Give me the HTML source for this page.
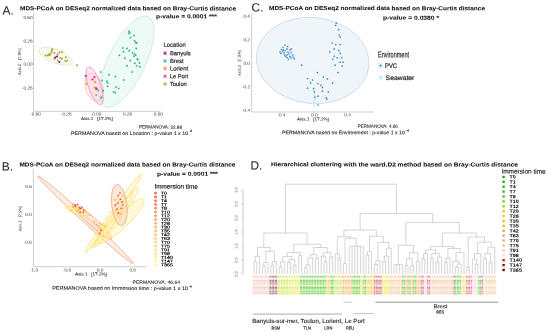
<!DOCTYPE html>
<html><head><meta charset="utf-8"><style>
html,body{margin:0;padding:0;background:#fff;width:550px;height:332px;overflow:hidden}
svg{display:block;will-change:transform}
text{font-family:"Liberation Sans", sans-serif;text-rendering:geometricPrecision}
</style></head><body>
<svg width="550" height="332" viewBox="0 0 550 332">
<text x="2.6" y="14.6" font-size="11.9" fill="#1a1a1a" font-weight="normal" text-anchor="start" stroke="#1a1a1a" stroke-width="0.02" transform="rotate(0.06 2.6 14.6)" >A.</text>
<text x="20" y="10.2" font-size="5.85" fill="#111" font-weight="bold" text-anchor="start" textLength="216.00" lengthAdjust="spacingAndGlyphs" stroke="#111" stroke-width="0.06" transform="rotate(0.06 20 10.2)" >MDS-PCoA on DESeq2 normalized data based on Bray-Curtis distance</text>
<text x="156.1" y="18.2" font-size="5.62" fill="#111" font-weight="bold" text-anchor="start" textLength="60.70" lengthAdjust="spacingAndGlyphs" stroke="#111" stroke-width="0.06" transform="rotate(0.06 156.1 18.2)" >p-value = 0.0001 ***</text>
<line x1="33.6" y1="12.5" x2="33.6" y2="111.4" stroke="#c9c9c9" stroke-width="0.9"/>
<line x1="33.6" y1="111.4" x2="160.5" y2="111.4" stroke="#c9c9c9" stroke-width="0.9"/>
<text x="32.6" y="18.9" font-size="4.35" fill="#555" font-weight="normal" text-anchor="end" textLength="9.13" lengthAdjust="spacingAndGlyphs" stroke="#555" stroke-width="0.05" transform="rotate(0.06 32.6 18.9)" >0.50</text>
<text x="32.6" y="42.5" font-size="4.35" fill="#555" font-weight="normal" text-anchor="end" textLength="9.13" lengthAdjust="spacingAndGlyphs" stroke="#555" stroke-width="0.05" transform="rotate(0.06 32.6 42.5)" >0.25</text>
<text x="32.6" y="65.6" font-size="4.35" fill="#555" font-weight="normal" text-anchor="end" textLength="9.13" lengthAdjust="spacingAndGlyphs" stroke="#555" stroke-width="0.05" transform="rotate(0.06 32.6 65.6)" >0.00</text>
<text x="32.6" y="89.5" font-size="4.35" fill="#555" font-weight="normal" text-anchor="end" textLength="10.61" lengthAdjust="spacingAndGlyphs" stroke="#555" stroke-width="0.05" transform="rotate(0.06 32.6 89.5)" >-0.25</text>
<text x="35.6" y="115.6" font-size="4.35" fill="#555" font-weight="normal" text-anchor="middle" textLength="10.61" lengthAdjust="spacingAndGlyphs" stroke="#555" stroke-width="0.05" transform="rotate(0.06 35.6 115.6)" >-0.50</text>
<text x="66.2" y="115.6" font-size="4.35" fill="#555" font-weight="normal" text-anchor="middle" textLength="10.61" lengthAdjust="spacingAndGlyphs" stroke="#555" stroke-width="0.05" transform="rotate(0.06 66.2 115.6)" >-0.25</text>
<text x="96.9" y="115.6" font-size="4.35" fill="#555" font-weight="normal" text-anchor="middle" textLength="9.13" lengthAdjust="spacingAndGlyphs" stroke="#555" stroke-width="0.05" transform="rotate(0.06 96.9 115.6)" >0.00</text>
<text x="127.6" y="115.6" font-size="4.35" fill="#555" font-weight="normal" text-anchor="middle" textLength="9.13" lengthAdjust="spacingAndGlyphs" stroke="#555" stroke-width="0.05" transform="rotate(0.06 127.6 115.6)" >0.25</text>
<text x="158.3" y="115.6" font-size="4.35" fill="#555" font-weight="normal" text-anchor="middle" textLength="9.13" lengthAdjust="spacingAndGlyphs" stroke="#555" stroke-width="0.05" transform="rotate(0.06 158.3 115.6)" >0.50</text>
<text x="80.9" y="119.9" font-size="4.24" fill="#333" font-weight="normal" text-anchor="start" textLength="31.80" lengthAdjust="spacingAndGlyphs" stroke="#333" stroke-width="0.08" transform="rotate(0.06 80.9 119.9)" >Axis.1&#160;&#160;&#160;[17.2%]</text>
<text x="0" y="0" font-size="4.2" fill="#333" text-anchor="middle" textLength="27.00" lengthAdjust="spacingAndGlyphs" transform="translate(21.1 61.8) rotate(-89.94)">Axis.2&#160;&#160;&#160;[7.9%]</text>
<ellipse cx="126.7" cy="61.7" rx="50" ry="18.6" transform="rotate(-64.2 126.7 61.7)" fill="#eefaf6" fill-opacity="1" stroke="#c2ebde" stroke-opacity="1" stroke-width="0.7"/>
<ellipse cx="55.7" cy="56.3" rx="17.8" ry="6.6" transform="rotate(21 55.7 56.3)" fill="#fbfaf0" fill-opacity="1" stroke="#e4e0c0" stroke-opacity="1" stroke-width="0.7"/>
<ellipse cx="94.1" cy="87.3" rx="14.6" ry="8.7" transform="rotate(73.2 94.1 87.3)" fill="#fdeee6" fill-opacity="0.8" stroke="#f6c4a8" stroke-opacity="1" stroke-width="0.7"/>
<ellipse cx="94.6" cy="85.9" rx="19.7" ry="6.2" transform="rotate(71.6 94.6 85.9)" fill="#f9c4dc" fill-opacity="0.38" stroke="#f590bc" stroke-opacity="1" stroke-width="0.8"/>
<circle cx="129.1" cy="31.3" r="1.0" fill="#3cbc8c" fill-opacity="1"/>
<circle cx="129.8" cy="32.7" r="1.0" fill="#3cbc8c" fill-opacity="1"/>
<circle cx="128.8" cy="33.4" r="1.0" fill="#3cbc8c" fill-opacity="1"/>
<circle cx="134" cy="35.5" r="1.0" fill="#3cbc8c" fill-opacity="1"/>
<circle cx="130.5" cy="37.6" r="1.0" fill="#3cbc8c" fill-opacity="1"/>
<circle cx="134.6" cy="41" r="1.0" fill="#3cbc8c" fill-opacity="1"/>
<circle cx="135.7" cy="42.4" r="1.0" fill="#3cbc8c" fill-opacity="1"/>
<circle cx="136.7" cy="43.1" r="1.0" fill="#3cbc8c" fill-opacity="1"/>
<circle cx="122.9" cy="48" r="1.0" fill="#3cbc8c" fill-opacity="1"/>
<circle cx="127" cy="48.6" r="1.0" fill="#3cbc8c" fill-opacity="1"/>
<circle cx="129.1" cy="50.7" r="1.0" fill="#3cbc8c" fill-opacity="1"/>
<circle cx="136.3" cy="48.6" r="1.0" fill="#3cbc8c" fill-opacity="1"/>
<circle cx="123.6" cy="51.7" r="1.0" fill="#3cbc8c" fill-opacity="1"/>
<circle cx="132.6" cy="52.8" r="1.0" fill="#3cbc8c" fill-opacity="1"/>
<circle cx="134.6" cy="54.2" r="1.0" fill="#3cbc8c" fill-opacity="1"/>
<circle cx="135.7" cy="54.9" r="1.0" fill="#3cbc8c" fill-opacity="1"/>
<circle cx="119.4" cy="55.2" r="1.0" fill="#3cbc8c" fill-opacity="1"/>
<circle cx="124.9" cy="58.3" r="1.0" fill="#3cbc8c" fill-opacity="1"/>
<circle cx="134" cy="56.3" r="1.0" fill="#3cbc8c" fill-opacity="1"/>
<circle cx="137.4" cy="59" r="1.0" fill="#3cbc8c" fill-opacity="1"/>
<circle cx="130.2" cy="60.5" r="1.0" fill="#3cbc8c" fill-opacity="1"/>
<circle cx="137.7" cy="59.8" r="1.0" fill="#3cbc8c" fill-opacity="1"/>
<circle cx="134.9" cy="63.3" r="1.0" fill="#3cbc8c" fill-opacity="1"/>
<circle cx="139.5" cy="63" r="1.0" fill="#3cbc8c" fill-opacity="1"/>
<circle cx="136.7" cy="65.8" r="1.0" fill="#3cbc8c" fill-opacity="1"/>
<circle cx="139.9" cy="66.8" r="1.0" fill="#3cbc8c" fill-opacity="1"/>
<circle cx="127" cy="65.7" r="1.0" fill="#3cbc8c" fill-opacity="1"/>
<circle cx="132.1" cy="71.9" r="1.0" fill="#3cbc8c" fill-opacity="1"/>
<circle cx="100.7" cy="71.9" r="1.0" fill="#3cbc8c" fill-opacity="1"/>
<circle cx="109" cy="74.8" r="1.0" fill="#3cbc8c" fill-opacity="1"/>
<circle cx="115.5" cy="76.5" r="1.0" fill="#3cbc8c" fill-opacity="1"/>
<circle cx="123.8" cy="79.9" r="1.0" fill="#3cbc8c" fill-opacity="1"/>
<circle cx="102.1" cy="80.6" r="1.0" fill="#3cbc8c" fill-opacity="1"/>
<circle cx="106.9" cy="81.3" r="1.0" fill="#3cbc8c" fill-opacity="1"/>
<circle cx="107.6" cy="83.1" r="1.0" fill="#3cbc8c" fill-opacity="1"/>
<circle cx="107.6" cy="86.2" r="1.0" fill="#3cbc8c" fill-opacity="1"/>
<circle cx="115.9" cy="86.9" r="1.0" fill="#3cbc8c" fill-opacity="1"/>
<circle cx="118.7" cy="88.5" r="1.0" fill="#3cbc8c" fill-opacity="1"/>
<circle cx="113.6" cy="92.1" r="1.0" fill="#3cbc8c" fill-opacity="1"/>
<circle cx="115.2" cy="92.7" r="1.0" fill="#3cbc8c" fill-opacity="1"/>
<circle cx="103" cy="90.7" r="1.0" fill="#3cbc8c" fill-opacity="1"/>
<circle cx="101.4" cy="98" r="1.0" fill="#3cbc8c" fill-opacity="1"/>
<circle cx="98" cy="90.5" r="1.0" fill="#3cbc8c" fill-opacity="1"/>
<circle cx="102.8" cy="90.5" r="1.0" fill="#3cbc8c" fill-opacity="1"/>
<circle cx="101.4" cy="97.2" r="1.0" fill="#3cbc8c" fill-opacity="1"/>
<circle cx="52.3" cy="49.2" r="1.05" fill="#b0a83c" fill-opacity="1"/>
<circle cx="51.4" cy="52.1" r="1.05" fill="#b0a83c" fill-opacity="1"/>
<circle cx="50.2" cy="53.8" r="1.05" fill="#b0a83c" fill-opacity="1"/>
<circle cx="45.5" cy="55.5" r="1.05" fill="#b0a83c" fill-opacity="1"/>
<circle cx="47.6" cy="55.5" r="1.05" fill="#b0a83c" fill-opacity="1"/>
<circle cx="49.7" cy="55.1" r="1.05" fill="#b0a83c" fill-opacity="1"/>
<circle cx="54.4" cy="53" r="1.05" fill="#b0a83c" fill-opacity="1"/>
<circle cx="57.7" cy="54.2" r="1.05" fill="#b0a83c" fill-opacity="1"/>
<circle cx="59.4" cy="52.5" r="1.05" fill="#b0a83c" fill-opacity="1"/>
<circle cx="62" cy="52.1" r="1.05" fill="#b0a83c" fill-opacity="1"/>
<circle cx="60.3" cy="58" r="1.05" fill="#b0a83c" fill-opacity="1"/>
<circle cx="62" cy="58.8" r="1.05" fill="#b0a83c" fill-opacity="1"/>
<circle cx="65.7" cy="57.2" r="1.05" fill="#b0a83c" fill-opacity="1"/>
<circle cx="65.3" cy="61" r="1.05" fill="#b0a83c" fill-opacity="1"/>
<circle cx="67" cy="60.5" r="1.05" fill="#b0a83c" fill-opacity="1"/>
<circle cx="54.4" cy="59.3" r="1.05" fill="#b0a83c" fill-opacity="1"/>
<circle cx="57.7" cy="60.5" r="1.05" fill="#b0a83c" fill-opacity="1"/>
<circle cx="77.1" cy="65.2" r="1.05" fill="#b0a83c" fill-opacity="1"/>
<circle cx="96.3" cy="95.1" r="1.05" fill="#b0a83c" fill-opacity="1"/>
<circle cx="52" cy="50.5" r="1.05" fill="#b0a83c" fill-opacity="1"/>
<circle cx="48.5" cy="54.5" r="1.05" fill="#b0a83c" fill-opacity="1"/>
<circle cx="55.2" cy="57.6" r="1.1" fill="#8e058e" fill-opacity="1"/>
<circle cx="56.9" cy="56.5" r="1.1" fill="#8e058e" fill-opacity="1"/>
<circle cx="59.4" cy="62" r="1.1" fill="#8e058e" fill-opacity="1"/>
<circle cx="85.8" cy="75.8" r="1.1" fill="#ff1493" fill-opacity="1"/>
<circle cx="94.5" cy="77.1" r="1.1" fill="#ff1493" fill-opacity="1"/>
<circle cx="92.4" cy="79.5" r="1.1" fill="#ff1493" fill-opacity="1"/>
<circle cx="95.9" cy="88.2" r="1.1" fill="#ff1493" fill-opacity="1"/>
<circle cx="96.6" cy="88.9" r="1.1" fill="#ff1493" fill-opacity="1"/>
<circle cx="86.6" cy="84" r="1.05" fill="#ff7f3a" fill-opacity="1"/>
<circle cx="94.9" cy="82" r="1.05" fill="#ff7f3a" fill-opacity="1"/>
<circle cx="94.9" cy="87.5" r="1.05" fill="#ff7f3a" fill-opacity="1"/>
<text x="163.5" y="46.8" font-size="5.93" fill="#2a2a2a" font-weight="normal" text-anchor="start" textLength="22.20" lengthAdjust="spacingAndGlyphs" stroke="#2a2a2a" stroke-width="0.2" transform="rotate(0.06 163.5 46.8)" >Location</text>
<rect x="163.1" y="51.2" width="4.0" height="4.0" fill="#dcaee0"/>
<circle cx="165.1" cy="53.2" r="1.0" fill="#8e058e"/>
<text x="169.9" y="55.2" font-size="5.93" fill="#2a2a2a" font-weight="normal" text-anchor="start" textLength="20.77" lengthAdjust="spacingAndGlyphs" stroke="#2a2a2a" stroke-width="0.2" transform="rotate(0.06 169.9 55.2)" >Banyuls</text>
<rect x="163.1" y="58.900000000000006" width="4.0" height="4.0" fill="#b4e8d4"/>
<circle cx="165.1" cy="60.900000000000006" r="1.0" fill="#3cbc8c"/>
<text x="169.9" y="62.900000000000006" font-size="5.93" fill="#2a2a2a" font-weight="normal" text-anchor="start" textLength="13.67" lengthAdjust="spacingAndGlyphs" stroke="#2a2a2a" stroke-width="0.2" transform="rotate(0.06 169.9 62.900000000000006)" >Brest</text>
<rect x="163.1" y="66.60000000000001" width="4.0" height="4.0" fill="#ffcdb0"/>
<circle cx="165.1" cy="68.60000000000001" r="1.0" fill="#ff7f3a"/>
<text x="169.9" y="70.60000000000001" font-size="5.93" fill="#2a2a2a" font-weight="normal" text-anchor="start" textLength="18.28" lengthAdjust="spacingAndGlyphs" stroke="#2a2a2a" stroke-width="0.2" transform="rotate(0.06 169.9 70.60000000000001)" >Lorient</text>
<rect x="163.1" y="74.30000000000001" width="4.0" height="4.0" fill="#ffb8d8"/>
<circle cx="165.1" cy="76.30000000000001" r="1.0" fill="#ff1493"/>
<text x="169.9" y="78.30000000000001" font-size="5.93" fill="#2a2a2a" font-weight="normal" text-anchor="start" textLength="18.14" lengthAdjust="spacingAndGlyphs" stroke="#2a2a2a" stroke-width="0.2" transform="rotate(0.06 169.9 78.30000000000001)" >Le Port</text>
<rect x="163.1" y="82.0" width="4.0" height="4.0" fill="#e2deb2"/>
<circle cx="165.1" cy="84.0" r="1.0" fill="#b0a83c"/>
<text x="169.9" y="86.0" font-size="5.93" fill="#2a2a2a" font-weight="normal" text-anchor="start" textLength="16.85" lengthAdjust="spacingAndGlyphs" stroke="#2a2a2a" stroke-width="0.2" transform="rotate(0.06 169.9 86.0)" >Toulon</text>
<text x="138.9" y="128.6" font-size="4.66" fill="#1a1a1a" font-weight="normal" text-anchor="start" textLength="43.10" lengthAdjust="spacingAndGlyphs" stroke="#1a1a1a" stroke-width="0.08" transform="rotate(0.06 138.9 128.6)" >PERMANOVA: 22.88</text>
<text x="70.9" y="135.0" font-size="4.94" fill="#1a1a1a" font-weight="normal" text-anchor="start" textLength="117.40" lengthAdjust="spacingAndGlyphs" stroke="#1a1a1a" stroke-width="0.08" transform="rotate(0.06 70.9 135.0)" >PERMANOVA based on Location : p-value 1 x 10</text>
<text x="189.4" y="131.7" font-size="2.8" fill="#1a1a1a" font-weight="normal" text-anchor="start" stroke="#1a1a1a" stroke-width="0.2" transform="rotate(0.06 189.4 131.7)" >-4</text>
<text x="251.6" y="11.6" font-size="11.9" fill="#1a1a1a" font-weight="normal" text-anchor="start" stroke="#1a1a1a" stroke-width="0.02" transform="rotate(0.06 251.6 11.6)" >C.</text>
<text x="269" y="10.0" font-size="5.85" fill="#111" font-weight="bold" text-anchor="start" textLength="216.00" lengthAdjust="spacingAndGlyphs" stroke="#111" stroke-width="0.06" transform="rotate(0.06 269 10.0)" >MDS-PCoA on DESeq2 normalized data based on Bray-Curtis distance</text>
<text x="383" y="19.6" font-size="5.62" fill="#111" font-weight="bold" text-anchor="start" textLength="56.00" lengthAdjust="spacingAndGlyphs" stroke="#111" stroke-width="0.06" transform="rotate(0.06 383 19.6)" >p-value = 0.0380 *</text>
<line x1="251.6" y1="13.5" x2="251.6" y2="112" stroke="#c9c9c9" stroke-width="0.9"/>
<line x1="251.6" y1="112" x2="374" y2="112" stroke="#c9c9c9" stroke-width="0.9"/>
<text x="250" y="17.7" font-size="4.35" fill="#555" font-weight="normal" text-anchor="end" textLength="6.52" lengthAdjust="spacingAndGlyphs" stroke="#555" stroke-width="0.05" transform="rotate(0.06 250 17.7)" >0.4</text>
<text x="250" y="41.3" font-size="4.35" fill="#555" font-weight="normal" text-anchor="end" textLength="6.52" lengthAdjust="spacingAndGlyphs" stroke="#555" stroke-width="0.05" transform="rotate(0.06 250 41.3)" >0.2</text>
<text x="250" y="64.7" font-size="4.35" fill="#555" font-weight="normal" text-anchor="end" textLength="6.52" lengthAdjust="spacingAndGlyphs" stroke="#555" stroke-width="0.05" transform="rotate(0.06 250 64.7)" >0.0</text>
<text x="250" y="88.3" font-size="4.35" fill="#555" font-weight="normal" text-anchor="end" textLength="8.00" lengthAdjust="spacingAndGlyphs" stroke="#555" stroke-width="0.05" transform="rotate(0.06 250 88.3)" >-0.2</text>
<text x="250" y="111.8" font-size="4.35" fill="#555" font-weight="normal" text-anchor="end" textLength="8.00" lengthAdjust="spacingAndGlyphs" stroke="#555" stroke-width="0.05" transform="rotate(0.06 250 111.8)" >-0.4</text>
<text x="281.5" y="116.2" font-size="4.35" fill="#555" font-weight="normal" text-anchor="middle" textLength="8.00" lengthAdjust="spacingAndGlyphs" stroke="#555" stroke-width="0.05" transform="rotate(0.06 281.5 116.2)" >-0.4</text>
<text x="314.5" y="116.2" font-size="4.35" fill="#555" font-weight="normal" text-anchor="middle" textLength="6.52" lengthAdjust="spacingAndGlyphs" stroke="#555" stroke-width="0.05" transform="rotate(0.06 314.5 116.2)" >0.0</text>
<text x="347.6" y="116.2" font-size="4.35" fill="#555" font-weight="normal" text-anchor="middle" textLength="6.52" lengthAdjust="spacingAndGlyphs" stroke="#555" stroke-width="0.05" transform="rotate(0.06 347.6 116.2)" >0.4</text>
<text x="297" y="120.6" font-size="4.24" fill="#333" font-weight="normal" text-anchor="start" textLength="31.80" lengthAdjust="spacingAndGlyphs" stroke="#333" stroke-width="0.08" transform="rotate(0.06 297 120.6)" >Axis.1&#160;&#160;&#160;[17.2%]</text>
<text x="0" y="0" font-size="4.2" fill="#333" text-anchor="middle" textLength="26.00" lengthAdjust="spacingAndGlyphs" transform="translate(240.7 63) rotate(-89.94)">Axis.2&#160;&#160;&#160;[7.9%]</text>
<ellipse cx="312.7" cy="60.5" rx="56.5" ry="43.0" transform="rotate(6 312.7 60.5)" fill="#f0f5fa" fill-opacity="1" stroke="#bcd5ea" stroke-opacity="1" stroke-width="0.7"/>
<line x1="314.4" y1="86" x2="314.4" y2="108" stroke="#a8eeee" stroke-width="0.7"/>
<circle cx="284.9" cy="45.1" r="0.85" fill="#3c88d2" fill-opacity="1"/>
<circle cx="286.9" cy="48.9" r="0.85" fill="#3c88d2" fill-opacity="1"/>
<circle cx="289.9" cy="49.8" r="0.85" fill="#3c88d2" fill-opacity="1"/>
<circle cx="282.5" cy="51" r="0.85" fill="#3c88d2" fill-opacity="1"/>
<circle cx="281" cy="53.4" r="0.85" fill="#3c88d2" fill-opacity="1"/>
<circle cx="284" cy="52.8" r="0.85" fill="#3c88d2" fill-opacity="1"/>
<circle cx="286.9" cy="54.8" r="0.85" fill="#3c88d2" fill-opacity="1"/>
<circle cx="289.9" cy="56.3" r="0.85" fill="#3c88d2" fill-opacity="1"/>
<circle cx="292.8" cy="54.8" r="0.85" fill="#3c88d2" fill-opacity="1"/>
<circle cx="294.3" cy="58.7" r="0.85" fill="#3c88d2" fill-opacity="1"/>
<circle cx="288.4" cy="59.3" r="0.85" fill="#3c88d2" fill-opacity="1"/>
<circle cx="290.8" cy="57.8" r="0.85" fill="#3c88d2" fill-opacity="1"/>
<circle cx="291.4" cy="48.9" r="0.85" fill="#3c88d2" fill-opacity="1"/>
<circle cx="285.5" cy="56.3" r="0.85" fill="#3c88d2" fill-opacity="1"/>
<circle cx="283.5" cy="50" r="0.85" fill="#3c88d2" fill-opacity="1"/>
<circle cx="288" cy="52" r="0.85" fill="#3c88d2" fill-opacity="1"/>
<circle cx="301.7" cy="65.2" r="0.85" fill="#3c88d2" fill-opacity="1"/>
<circle cx="336.3" cy="23.2" r="0.85" fill="#3c88d2" fill-opacity="1"/>
<circle cx="335.7" cy="25.3" r="0.85" fill="#3c88d2" fill-opacity="1"/>
<circle cx="338.7" cy="29.7" r="0.85" fill="#3c88d2" fill-opacity="1"/>
<circle cx="339.2" cy="35" r="0.85" fill="#3c88d2" fill-opacity="1"/>
<circle cx="340.1" cy="37.1" r="0.85" fill="#3c88d2" fill-opacity="1"/>
<circle cx="332.2" cy="43" r="0.85" fill="#3c88d2" fill-opacity="1"/>
<circle cx="335.7" cy="44.5" r="0.85" fill="#3c88d2" fill-opacity="1"/>
<circle cx="340.1" cy="44.5" r="0.85" fill="#3c88d2" fill-opacity="1"/>
<circle cx="334.2" cy="48.9" r="0.85" fill="#3c88d2" fill-opacity="1"/>
<circle cx="329.8" cy="51.9" r="0.85" fill="#3c88d2" fill-opacity="1"/>
<circle cx="338.7" cy="50.4" r="0.85" fill="#3c88d2" fill-opacity="1"/>
<circle cx="340.1" cy="53.4" r="0.85" fill="#3c88d2" fill-opacity="1"/>
<circle cx="337.2" cy="57.8" r="0.85" fill="#3c88d2" fill-opacity="1"/>
<circle cx="341.6" cy="57.8" r="0.85" fill="#3c88d2" fill-opacity="1"/>
<circle cx="334.2" cy="56.3" r="0.85" fill="#3c88d2" fill-opacity="1"/>
<circle cx="340.1" cy="62.2" r="0.85" fill="#3c88d2" fill-opacity="1"/>
<circle cx="343.1" cy="62.2" r="0.85" fill="#3c88d2" fill-opacity="1"/>
<circle cx="342.2" cy="66.1" r="0.85" fill="#3c88d2" fill-opacity="1"/>
<circle cx="335.1" cy="65.2" r="0.85" fill="#3c88d2" fill-opacity="1"/>
<circle cx="338.1" cy="72.6" r="0.85" fill="#3c88d2" fill-opacity="1"/>
<circle cx="332.7" cy="59.3" r="0.85" fill="#3c88d2" fill-opacity="1"/>
<circle cx="317.4" cy="72.6" r="0.85" fill="#3c88d2" fill-opacity="1"/>
<circle cx="307.6" cy="78.5" r="0.85" fill="#3c88d2" fill-opacity="1"/>
<circle cx="312.6" cy="80" r="0.85" fill="#3c88d2" fill-opacity="1"/>
<circle cx="323.3" cy="77" r="0.85" fill="#3c88d2" fill-opacity="1"/>
<circle cx="327.4" cy="79.1" r="0.85" fill="#3c88d2" fill-opacity="1"/>
<circle cx="310.6" cy="82.9" r="0.85" fill="#3c88d2" fill-opacity="1"/>
<circle cx="318" cy="83.5" r="0.85" fill="#3c88d2" fill-opacity="1"/>
<circle cx="320.9" cy="85.3" r="0.85" fill="#3c88d2" fill-opacity="1"/>
<circle cx="322.4" cy="87.4" r="0.85" fill="#3c88d2" fill-opacity="1"/>
<circle cx="332.7" cy="82.9" r="0.85" fill="#3c88d2" fill-opacity="1"/>
<circle cx="307.6" cy="88.2" r="0.85" fill="#3c88d2" fill-opacity="1"/>
<circle cx="313.5" cy="88.8" r="0.85" fill="#3c88d2" fill-opacity="1"/>
<circle cx="322.4" cy="91.2" r="0.85" fill="#3c88d2" fill-opacity="1"/>
<circle cx="328.3" cy="91.8" r="0.85" fill="#3c88d2" fill-opacity="1"/>
<circle cx="318" cy="96.2" r="0.85" fill="#3c88d2" fill-opacity="1"/>
<circle cx="315" cy="97.1" r="0.85" fill="#3c88d2" fill-opacity="1"/>
<circle cx="326.8" cy="99.2" r="0.85" fill="#3c88d2" fill-opacity="1"/>
<circle cx="326.2" cy="97.7" r="0.85" fill="#3c88d2" fill-opacity="1"/>
<circle cx="318" cy="105.1" r="0.85" fill="#3c88d2" fill-opacity="1"/>
<circle cx="314.4" cy="91.8" r="0.85" fill="#3c88d2" fill-opacity="1"/>
<circle cx="283" cy="47.5" r="0.85" fill="#3c88d2" fill-opacity="1"/>
<circle cx="287.5" cy="46.5" r="0.85" fill="#3c88d2" fill-opacity="1"/>
<circle cx="281.5" cy="49.5" r="0.85" fill="#3c88d2" fill-opacity="1"/>
<circle cx="285" cy="50.5" r="0.85" fill="#3c88d2" fill-opacity="1"/>
<circle cx="289" cy="54" r="0.85" fill="#3c88d2" fill-opacity="1"/>
<circle cx="291" cy="52.5" r="0.85" fill="#3c88d2" fill-opacity="1"/>
<circle cx="284.5" cy="55" r="0.85" fill="#3c88d2" fill-opacity="1"/>
<circle cx="287" cy="57.5" r="0.85" fill="#3c88d2" fill-opacity="1"/>
<circle cx="293" cy="57" r="0.85" fill="#3c88d2" fill-opacity="1"/>
<circle cx="280" cy="52" r="0.85" fill="#3c88d2" fill-opacity="1"/>
<rect x="377.8" y="62.8" width="5.4" height="5.6" fill="#e2edf8"/>
<rect x="379.3" y="65.25" width="2.4" height="0.7" fill="#3c88d2"/><rect x="380.15" y="64.4" width="0.7" height="2.4" fill="#3c88d2"/>
<rect x="377.8" y="74.8" width="5.4" height="5.6" fill="#e8fafa"/>
<rect x="379.3" y="77.25" width="2.4" height="0.7" fill="#8ee8e8"/><rect x="380.15" y="76.4" width="0.7" height="2.4" fill="#8ee8e8"/>
<text x="378" y="57.4" font-size="8.6" fill="#2a2a2a" font-weight="normal" text-anchor="start" textLength="31.00" lengthAdjust="spacingAndGlyphs" stroke="#2a2a2a" stroke-width="0.2" transform="rotate(0.06 378 57.4)" >Environment</text>
<text x="385" y="67.9" font-size="6.6" fill="#1a1a1a" font-weight="normal" text-anchor="start" textLength="12.00" lengthAdjust="spacingAndGlyphs" stroke="#1a1a1a" stroke-width="0.2" transform="rotate(0.06 385 67.9)" >PVC</text>
<text x="385.6" y="79.9" font-size="6.6" fill="#1a1a1a" font-weight="normal" text-anchor="start" textLength="28.80" lengthAdjust="spacingAndGlyphs" stroke="#1a1a1a" stroke-width="0.2" transform="rotate(0.06 385.6 79.9)" >Seawater</text>
<text x="357.8" y="127.8" font-size="4.66" fill="#1a1a1a" font-weight="normal" text-anchor="start" textLength="39.90" lengthAdjust="spacingAndGlyphs" stroke="#1a1a1a" stroke-width="0.08" transform="rotate(0.06 357.8 127.8)" >PERMANOVA: 4.06</text>
<text x="282" y="134.2" font-size="4.94" fill="#1a1a1a" font-weight="normal" text-anchor="start" textLength="122.80" lengthAdjust="spacingAndGlyphs" stroke="#1a1a1a" stroke-width="0.08" transform="rotate(0.06 282 134.2)" >PERMANOVA based on Environment : p-value 1 x 10</text>
<text x="406.3" y="131.4" font-size="2.8" fill="#1a1a1a" font-weight="normal" text-anchor="start" stroke="#1a1a1a" stroke-width="0.2" transform="rotate(0.06 406.3 131.4)" >-4</text>
<text x="1.8" y="170.6" font-size="11.9" fill="#1a1a1a" font-weight="normal" text-anchor="start" stroke="#1a1a1a" stroke-width="0.02" transform="rotate(0.06 1.8 170.6)" >B.</text>
<text x="19.4" y="166.4" font-size="5.85" fill="#111" font-weight="bold" text-anchor="start" textLength="216.00" lengthAdjust="spacingAndGlyphs" stroke="#111" stroke-width="0.06" transform="rotate(0.06 19.4 166.4)" >MDS-PCoA on DESeq2 normalized data based on Bray-Curtis distance</text>
<text x="157" y="175.7" font-size="5.62" fill="#111" font-weight="bold" text-anchor="start" textLength="60.70" lengthAdjust="spacingAndGlyphs" stroke="#111" stroke-width="0.06" transform="rotate(0.06 157 175.7)" >p-value = 0.0001 ***</text>
<line x1="33.4" y1="169" x2="33.4" y2="266.7" stroke="#c9c9c9" stroke-width="0.9"/>
<line x1="33.4" y1="266.7" x2="147" y2="266.7" stroke="#c9c9c9" stroke-width="0.9"/>
<text x="31.8" y="188.0" font-size="4.35" fill="#555" font-weight="normal" text-anchor="end" textLength="6.52" lengthAdjust="spacingAndGlyphs" stroke="#555" stroke-width="0.05" transform="rotate(0.06 31.8 188.0)" >0.5</text>
<text x="31.8" y="215.9" font-size="4.35" fill="#555" font-weight="normal" text-anchor="end" textLength="6.52" lengthAdjust="spacingAndGlyphs" stroke="#555" stroke-width="0.05" transform="rotate(0.06 31.8 215.9)" >0.0</text>
<text x="31.8" y="243.7" font-size="4.35" fill="#555" font-weight="normal" text-anchor="end" textLength="8.00" lengthAdjust="spacingAndGlyphs" stroke="#555" stroke-width="0.05" transform="rotate(0.06 31.8 243.7)" >-0.5</text>
<text x="34" y="271.6" font-size="4.35" fill="#555" font-weight="normal" text-anchor="middle" textLength="8.00" lengthAdjust="spacingAndGlyphs" stroke="#555" stroke-width="0.05" transform="rotate(0.06 34 271.6)" >-1.0</text>
<text x="67" y="271.6" font-size="4.35" fill="#555" font-weight="normal" text-anchor="middle" textLength="8.00" lengthAdjust="spacingAndGlyphs" stroke="#555" stroke-width="0.05" transform="rotate(0.06 67 271.6)" >-0.5</text>
<text x="100" y="271.6" font-size="4.35" fill="#555" font-weight="normal" text-anchor="middle" textLength="6.52" lengthAdjust="spacingAndGlyphs" stroke="#555" stroke-width="0.05" transform="rotate(0.06 100 271.6)" >0.0</text>
<text x="132.7" y="271.6" font-size="4.35" fill="#555" font-weight="normal" text-anchor="middle" textLength="6.52" lengthAdjust="spacingAndGlyphs" stroke="#555" stroke-width="0.05" transform="rotate(0.06 132.7 271.6)" >0.5</text>
<text x="75" y="275.6" font-size="4.24" fill="#333" font-weight="normal" text-anchor="start" textLength="31.80" lengthAdjust="spacingAndGlyphs" stroke="#333" stroke-width="0.08" transform="rotate(0.06 75 275.6)" >Axis.1&#160;&#160;&#160;[17.2%]</text>
<text x="0" y="0" font-size="4.2" fill="#333" text-anchor="middle" textLength="25.50" lengthAdjust="spacingAndGlyphs" transform="translate(21.6 218.7) rotate(-89.94)">Axis.2&#160;&#160;&#160;[7.9%]</text>
<ellipse cx="85.5" cy="219.7" rx="64.54" ry="3.1" transform="rotate(42.61 85.5 219.7)" fill="#f9d8c0" fill-opacity="0.45" stroke="#e8986a" stroke-opacity="0.9" stroke-width="0.7"/>
<ellipse cx="92.1" cy="221.35" rx="26.18" ry="4.1" transform="rotate(41.52 92.1 221.35)" fill="#f9d8c0" fill-opacity="0.5" stroke="#e8986a" stroke-opacity="0.9" stroke-width="0.7"/>
<ellipse cx="120.75" cy="221.25" rx="31.47" ry="7.2" transform="rotate(-43.71 120.75 221.25)" fill="#fff2b0" fill-opacity="0.45" stroke="#ffd84a" stroke-opacity="0.8" stroke-width="0.7"/>
<ellipse cx="116.5" cy="217.0" rx="36.1" ry="4.5" transform="rotate(-53.45 116.5 217.0)" fill="#fff2b0" fill-opacity="0.3" stroke="#ffd84a" stroke-opacity="0.8" stroke-width="0.7"/>
<ellipse cx="112.5" cy="220.0" rx="34.7" ry="3.4" transform="rotate(-53.79 112.5 220.0)" fill="#fff2b0" fill-opacity="0.3" stroke="#ffd84a" stroke-opacity="0.8" stroke-width="0.7"/>
<ellipse cx="113.45" cy="213.15" rx="48.05" ry="2.8" transform="rotate(-54.57 113.45 213.15)" fill="#fff2b0" fill-opacity="0.35" stroke="#ffd84a" stroke-opacity="0.9" stroke-width="0.7"/>
<ellipse cx="76.5" cy="211.0" rx="12.18" ry="2.6" transform="rotate(19.18 76.5 211.0)" fill="#fff2b0" fill-opacity="0.5" stroke="#ffd84a" stroke-opacity="0.8" stroke-width="0.7"/>
<ellipse cx="119.3" cy="205" rx="20.6" ry="7.6" transform="rotate(83 119.3 205)" fill="#f9d8c0" fill-opacity="0.6" stroke="#e8986a" stroke-opacity="0.9" stroke-width="0.7"/>
<circle cx="75" cy="205" r="0.85" fill="#f2401a" fill-opacity="1"/>
<circle cx="77.5" cy="204.5" r="0.85" fill="#f2401a" fill-opacity="1"/>
<circle cx="82" cy="207" r="0.85" fill="#f2401a" fill-opacity="1"/>
<circle cx="120" cy="193" r="0.85" fill="#f2401a" fill-opacity="1"/>
<circle cx="117" cy="209" r="0.85" fill="#f2401a" fill-opacity="1"/>
<circle cx="123" cy="205" r="0.85" fill="#f2401a" fill-opacity="1"/>
<circle cx="118.3" cy="195.5" r="0.85" fill="#f2401a" fill-opacity="1"/>
<circle cx="120.3" cy="199.3" r="0.85" fill="#f2401a" fill-opacity="1"/>
<circle cx="115.2" cy="205.2" r="0.85" fill="#f2401a" fill-opacity="1"/>
<circle cx="121.3" cy="208.3" r="0.85" fill="#f2401a" fill-opacity="1"/>
<circle cx="118.3" cy="212.9" r="0.85" fill="#f2401a" fill-opacity="1"/>
<circle cx="117.8" cy="203.1" r="0.85" fill="#f2401a" fill-opacity="1"/>
<circle cx="122.1" cy="201.9" r="0.85" fill="#f2401a" fill-opacity="1"/>
<circle cx="75.5" cy="206.3" r="0.85" fill="#f2401a" fill-opacity="1"/>
<circle cx="79.3" cy="207.8" r="0.85" fill="#f2401a" fill-opacity="1"/>
<circle cx="80.8" cy="208.5" r="0.85" fill="#f2401a" fill-opacity="1"/>
<circle cx="83.8" cy="210" r="0.85" fill="#f2401a" fill-opacity="1"/>
<circle cx="83.1" cy="212.3" r="0.85" fill="#f2401a" fill-opacity="1"/>
<circle cx="80.1" cy="212.3" r="0.85" fill="#f2401a" fill-opacity="1"/>
<circle cx="99.6" cy="233.4" r="0.85" fill="#f2401a" fill-opacity="1"/>
<circle cx="101.1" cy="230.4" r="0.85" fill="#f2401a" fill-opacity="1"/>
<circle cx="73" cy="207" r="0.8" fill="#ffa030" fill-opacity="1"/>
<circle cx="78.5" cy="210.5" r="0.8" fill="#ffa030" fill-opacity="1"/>
<circle cx="85" cy="211" r="0.8" fill="#ffa030" fill-opacity="1"/>
<circle cx="115" cy="200" r="0.8" fill="#ffa030" fill-opacity="1"/>
<circle cx="121" cy="214" r="0.8" fill="#ffa030" fill-opacity="1"/>
<circle cx="105" cy="226" r="0.8" fill="#ffa030" fill-opacity="1"/>
<circle cx="103" cy="236" r="0.8" fill="#ffa030" fill-opacity="1"/>
<circle cx="89.8" cy="215.3" r="0.8" fill="#ffa030" fill-opacity="1"/>
<circle cx="94.4" cy="222.1" r="0.8" fill="#ffa030" fill-opacity="1"/>
<circle cx="96.6" cy="224.4" r="0.8" fill="#ffa030" fill-opacity="1"/>
<circle cx="99.6" cy="222.8" r="0.8" fill="#ffa030" fill-opacity="1"/>
<circle cx="98.9" cy="225.9" r="0.8" fill="#ffa030" fill-opacity="1"/>
<circle cx="100.4" cy="228.9" r="0.8" fill="#ffa030" fill-opacity="1"/>
<circle cx="120" cy="214" r="0.8" fill="#ffa030" fill-opacity="1"/>
<circle cx="123" cy="196" r="0.8" fill="#ffa030" fill-opacity="1"/>
<circle cx="116" cy="210" r="0.8" fill="#ffa030" fill-opacity="1"/>
<circle cx="77" cy="211" r="0.8" fill="#ffa030" fill-opacity="1"/>
<circle cx="74" cy="209.3" r="0.8" fill="#ffdc20" fill-opacity="1"/>
<circle cx="71.8" cy="210" r="0.8" fill="#ffdc20" fill-opacity="1"/>
<circle cx="103.4" cy="229.6" r="0.8" fill="#ffdc20" fill-opacity="1"/>
<circle cx="102.7" cy="224.4" r="0.8" fill="#ffdc20" fill-opacity="1"/>
<circle cx="110" cy="228" r="0.8" fill="#ffdc20" fill-opacity="1"/>
<circle cx="124" cy="206" r="0.8" fill="#ffdc20" fill-opacity="1"/>
<circle cx="120" cy="218" r="0.8" fill="#ffdc20" fill-opacity="1"/>
<circle cx="94" cy="221" r="0.8" fill="#ffdc20" fill-opacity="1"/>
<circle cx="119" cy="200" r="0.8" fill="#ffdc20" fill-opacity="1"/>
<circle cx="116" cy="198" r="0.8" fill="#ffdc20" fill-opacity="1"/>
<circle cx="122" cy="211" r="0.8" fill="#ffdc20" fill-opacity="1"/>
<circle cx="118" cy="216" r="0.8" fill="#ffdc20" fill-opacity="1"/>
<circle cx="113" cy="222" r="0.8" fill="#ffdc20" fill-opacity="1"/>
<circle cx="108" cy="232" r="0.8" fill="#ffdc20" fill-opacity="1"/>
<circle cx="70.5" cy="211" r="0.8" fill="#ffdc20" fill-opacity="1"/>
<text x="154.5" y="188.6" font-size="6.4" fill="#222" font-weight="normal" text-anchor="start" textLength="43.30" lengthAdjust="spacingAndGlyphs" stroke="#222" stroke-width="0.2" transform="rotate(0.06 154.5 188.6)" >Immersion time</text>
<ellipse cx="155.6" cy="193.1" rx="1.25" ry="1.0" fill="#f52828" fill-opacity="0.5" stroke="#f52828" stroke-width="0.6" stroke-opacity="1"/>
<text x="160.9" y="194.5" font-size="4.0" fill="#000" font-weight="normal" text-anchor="start" textLength="6.17" lengthAdjust="spacingAndGlyphs" stroke="#000" stroke-width="0.16" transform="rotate(0.06 160.9 194.5)" >T0</text>
<ellipse cx="155.6" cy="196.88" rx="1.25" ry="1.0" fill="#f6362a" fill-opacity="0.5" stroke="#f6362a" stroke-width="0.6" stroke-opacity="1"/>
<text x="160.9" y="198.28" font-size="4.0" fill="#000" font-weight="normal" text-anchor="start" textLength="6.17" lengthAdjust="spacingAndGlyphs" stroke="#000" stroke-width="0.16" transform="rotate(0.06 160.9 198.28)" >T1</text>
<ellipse cx="155.6" cy="200.66" rx="1.25" ry="1.0" fill="#f6432c" fill-opacity="0.5" stroke="#f6432c" stroke-width="0.6" stroke-opacity="1"/>
<text x="160.9" y="202.06" font-size="4.0" fill="#000" font-weight="normal" text-anchor="start" textLength="6.17" lengthAdjust="spacingAndGlyphs" stroke="#000" stroke-width="0.16" transform="rotate(0.06 160.9 202.06)" >T4</text>
<ellipse cx="155.6" cy="204.44" rx="1.25" ry="1.0" fill="#f7512e" fill-opacity="0.5" stroke="#f7512e" stroke-width="0.6" stroke-opacity="1"/>
<text x="160.9" y="205.84" font-size="4.0" fill="#000" font-weight="normal" text-anchor="start" textLength="6.17" lengthAdjust="spacingAndGlyphs" stroke="#000" stroke-width="0.16" transform="rotate(0.06 160.9 205.84)" >T7</text>
<ellipse cx="155.6" cy="208.22" rx="1.25" ry="1.0" fill="#f85f30" fill-opacity="0.5" stroke="#f85f30" stroke-width="0.6" stroke-opacity="1"/>
<text x="160.9" y="209.62" font-size="4.0" fill="#000" font-weight="normal" text-anchor="start" textLength="6.17" lengthAdjust="spacingAndGlyphs" stroke="#000" stroke-width="0.16" transform="rotate(0.06 160.9 209.62)" >T8</text>
<ellipse cx="155.6" cy="212.0" rx="1.25" ry="1.0" fill="#f96c33" fill-opacity="0.5" stroke="#f96c33" stroke-width="0.6" stroke-opacity="1"/>
<text x="160.9" y="213.4" font-size="4.0" fill="#000" font-weight="normal" text-anchor="start" textLength="9.11" lengthAdjust="spacingAndGlyphs" stroke="#000" stroke-width="0.16" transform="rotate(0.06 160.9 213.4)" >T10</text>
<ellipse cx="155.6" cy="215.78" rx="1.25" ry="1.0" fill="#f97a35" fill-opacity="0.5" stroke="#f97a35" stroke-width="0.6" stroke-opacity="1"/>
<text x="160.9" y="217.18" font-size="4.0" fill="#000" font-weight="normal" text-anchor="start" textLength="9.11" lengthAdjust="spacingAndGlyphs" stroke="#000" stroke-width="0.16" transform="rotate(0.06 160.9 217.18)" >T12</text>
<ellipse cx="155.6" cy="219.56" rx="1.25" ry="1.0" fill="#fa8837" fill-opacity="0.5" stroke="#fa8837" stroke-width="0.6" stroke-opacity="1"/>
<text x="160.9" y="220.96" font-size="4.0" fill="#000" font-weight="normal" text-anchor="start" textLength="9.11" lengthAdjust="spacingAndGlyphs" stroke="#000" stroke-width="0.16" transform="rotate(0.06 160.9 220.96)" >T20</text>
<ellipse cx="155.6" cy="223.34" rx="1.25" ry="1.0" fill="#fb9539" fill-opacity="0.5" stroke="#fb9539" stroke-width="0.6" stroke-opacity="1"/>
<text x="160.9" y="224.74" font-size="4.0" fill="#000" font-weight="normal" text-anchor="start" textLength="9.11" lengthAdjust="spacingAndGlyphs" stroke="#000" stroke-width="0.16" transform="rotate(0.06 160.9 224.74)" >T28</text>
<ellipse cx="155.6" cy="227.12" rx="1.25" ry="1.0" fill="#fca33b" fill-opacity="0.5" stroke="#fca33b" stroke-width="0.6" stroke-opacity="1"/>
<text x="160.9" y="228.52" font-size="4.0" fill="#000" font-weight="normal" text-anchor="start" textLength="9.11" lengthAdjust="spacingAndGlyphs" stroke="#000" stroke-width="0.16" transform="rotate(0.06 160.9 228.52)" >T30</text>
<ellipse cx="155.6" cy="230.89999999999998" rx="1.25" ry="1.0" fill="#fcae3f" fill-opacity="0.5" stroke="#fcae3f" stroke-width="0.6" stroke-opacity="1"/>
<text x="160.9" y="232.29999999999998" font-size="4.0" fill="#000" font-weight="normal" text-anchor="start" textLength="9.11" lengthAdjust="spacingAndGlyphs" stroke="#000" stroke-width="0.16" transform="rotate(0.06 160.9 232.29999999999998)" >T35</text>
<ellipse cx="155.6" cy="234.68" rx="1.25" ry="1.0" fill="#fcb645" fill-opacity="0.5" stroke="#fcb645" stroke-width="0.6" stroke-opacity="1"/>
<text x="160.9" y="236.08" font-size="4.0" fill="#000" font-weight="normal" text-anchor="start" textLength="9.11" lengthAdjust="spacingAndGlyphs" stroke="#000" stroke-width="0.16" transform="rotate(0.06 160.9 236.08)" >T42</text>
<ellipse cx="155.6" cy="238.45999999999998" rx="1.25" ry="1.0" fill="#fdbe4c" fill-opacity="0.5" stroke="#fdbe4c" stroke-width="0.6" stroke-opacity="1"/>
<text x="160.9" y="239.85999999999999" font-size="4.0" fill="#000" font-weight="normal" text-anchor="start" textLength="9.11" lengthAdjust="spacingAndGlyphs" stroke="#000" stroke-width="0.16" transform="rotate(0.06 160.9 239.85999999999999)" >T63</text>
<ellipse cx="155.6" cy="242.24" rx="1.25" ry="1.0" fill="#fdc652" fill-opacity="0.5" stroke="#fdc652" stroke-width="0.6" stroke-opacity="1"/>
<text x="160.9" y="243.64000000000001" font-size="4.0" fill="#000" font-weight="normal" text-anchor="start" textLength="9.11" lengthAdjust="spacingAndGlyphs" stroke="#000" stroke-width="0.16" transform="rotate(0.06 160.9 243.64000000000001)" >T70</text>
<ellipse cx="155.6" cy="246.01999999999998" rx="1.25" ry="1.0" fill="#fdce58" fill-opacity="0.5" stroke="#fdce58" stroke-width="0.6" stroke-opacity="1"/>
<text x="160.9" y="247.42" font-size="4.0" fill="#000" font-weight="normal" text-anchor="start" textLength="9.11" lengthAdjust="spacingAndGlyphs" stroke="#000" stroke-width="0.16" transform="rotate(0.06 160.9 247.42)" >T75</text>
<ellipse cx="155.6" cy="249.79999999999998" rx="1.25" ry="1.0" fill="#fed55f" fill-opacity="0.5" stroke="#fed55f" stroke-width="0.6" stroke-opacity="1"/>
<text x="160.9" y="251.2" font-size="4.0" fill="#000" font-weight="normal" text-anchor="start" textLength="9.11" lengthAdjust="spacingAndGlyphs" stroke="#000" stroke-width="0.16" transform="rotate(0.06 160.9 251.2)" >T91</text>
<ellipse cx="155.6" cy="253.57999999999998" rx="1.25" ry="1.0" fill="#fedd65" fill-opacity="0.5" stroke="#fedd65" stroke-width="0.6" stroke-opacity="1"/>
<text x="160.9" y="254.98" font-size="4.0" fill="#000" font-weight="normal" text-anchor="start" textLength="9.11" lengthAdjust="spacingAndGlyphs" stroke="#000" stroke-width="0.16" transform="rotate(0.06 160.9 254.98)" >T98</text>
<ellipse cx="155.6" cy="257.36" rx="1.25" ry="1.0" fill="#fee56b" fill-opacity="0.5" stroke="#fee56b" stroke-width="0.6" stroke-opacity="1"/>
<text x="160.9" y="258.76" font-size="4.0" fill="#000" font-weight="normal" text-anchor="start" textLength="12.06" lengthAdjust="spacingAndGlyphs" stroke="#000" stroke-width="0.16" transform="rotate(0.06 160.9 258.76)" >T140</text>
<ellipse cx="155.6" cy="261.14" rx="1.25" ry="1.0" fill="#ffed72" fill-opacity="0.5" stroke="#ffed72" stroke-width="0.6" stroke-opacity="1"/>
<text x="160.9" y="262.53999999999996" font-size="4.0" fill="#000" font-weight="normal" text-anchor="start" textLength="12.06" lengthAdjust="spacingAndGlyphs" stroke="#000" stroke-width="0.16" transform="rotate(0.06 160.9 262.53999999999996)" >T147</text>
<ellipse cx="155.6" cy="264.91999999999996" rx="1.25" ry="1.0" fill="#fff578" fill-opacity="0.5" stroke="#fff578" stroke-width="0.6" stroke-opacity="1"/>
<text x="160.9" y="266.31999999999994" font-size="4.0" fill="#000" font-weight="normal" text-anchor="start" textLength="12.06" lengthAdjust="spacingAndGlyphs" stroke="#000" stroke-width="0.16" transform="rotate(0.06 160.9 266.31999999999994)" >T365</text>
<text x="132.5" y="283.7" font-size="4.66" fill="#1a1a1a" font-weight="normal" text-anchor="start" textLength="47.70" lengthAdjust="spacingAndGlyphs" stroke="#1a1a1a" stroke-width="0.08" transform="rotate(0.06 132.5 283.7)" >PERMANOVA: 46.64</text>
<text x="52.2" y="289.8" font-size="4.94" fill="#1a1a1a" font-weight="normal" text-anchor="start" textLength="135.80" lengthAdjust="spacingAndGlyphs" stroke="#1a1a1a" stroke-width="0.08" transform="rotate(0.06 52.2 289.8)" >PERMANOVA based on Immersion time : p-value 1 x 10</text>
<text x="189.2" y="287.4" font-size="2.8" fill="#1a1a1a" font-weight="normal" text-anchor="start" stroke="#1a1a1a" stroke-width="0.2" transform="rotate(0.06 189.2 287.4)" >-4</text>
<text x="250.4" y="169.4" font-size="11.9" fill="#1a1a1a" font-weight="normal" text-anchor="start" stroke="#1a1a1a" stroke-width="0.02" transform="rotate(0.06 250.4 169.4)" >D.</text>
<text x="271" y="166.3" font-size="5.85" fill="#111" font-weight="bold" text-anchor="start" textLength="247.00" lengthAdjust="spacingAndGlyphs" stroke="#111" stroke-width="0.06" transform="rotate(0.06 271 166.3)" >Hierarchical clustering with the ward.D2 method based on Bray-Curtis distance</text>
<line x1="243" y1="189.8" x2="243" y2="274.2" stroke="#a4a4a4" stroke-width="0.55"/>
<line x1="241.4" y1="190" x2="243" y2="190" stroke="#a4a4a4" stroke-width="0.55"/>
<text x="0" y="0" font-size="3.9" fill="#555" text-anchor="middle" transform="translate(237.4 190) rotate(-89.94)">3.0</text>
<line x1="241.4" y1="204" x2="243" y2="204" stroke="#a4a4a4" stroke-width="0.55"/>
<text x="0" y="0" font-size="3.9" fill="#555" text-anchor="middle" transform="translate(237.4 204) rotate(-89.94)">2.5</text>
<line x1="241.4" y1="218" x2="243" y2="218" stroke="#a4a4a4" stroke-width="0.55"/>
<text x="0" y="0" font-size="3.9" fill="#555" text-anchor="middle" transform="translate(237.4 218) rotate(-89.94)">2.0</text>
<line x1="241.4" y1="232" x2="243" y2="232" stroke="#a4a4a4" stroke-width="0.55"/>
<text x="0" y="0" font-size="3.9" fill="#555" text-anchor="middle" transform="translate(237.4 232) rotate(-89.94)">1.5</text>
<line x1="241.4" y1="246" x2="243" y2="246" stroke="#a4a4a4" stroke-width="0.55"/>
<text x="0" y="0" font-size="3.9" fill="#555" text-anchor="middle" transform="translate(237.4 246) rotate(-89.94)">1.0</text>
<line x1="241.4" y1="260" x2="243" y2="260" stroke="#a4a4a4" stroke-width="0.55"/>
<text x="0" y="0" font-size="3.9" fill="#555" text-anchor="middle" transform="translate(237.4 260) rotate(-89.94)">0.5</text>
<line x1="241.4" y1="274" x2="243" y2="274" stroke="#a4a4a4" stroke-width="0.55"/>
<text x="0" y="0" font-size="3.9" fill="#555" text-anchor="middle" transform="translate(237.4 274) rotate(-89.94)">0.0</text>
<text x="501.4" y="173.6" font-size="6.6" fill="#333" font-weight="normal" text-anchor="start" textLength="44.30" lengthAdjust="spacingAndGlyphs" stroke="#333" stroke-width="0.2" transform="rotate(0.06 501.4 173.6)" >Immersion time</text>
<rect x="502.4" y="175.75" width="2.4" height="2.3" fill="#1f9a1f"/>
<text x="509.5" y="178.55" font-size="4.77" fill="#111" font-weight="bold" text-anchor="start" textLength="6.20" lengthAdjust="spacingAndGlyphs" stroke="#111" stroke-width="0.06" transform="rotate(0.06 509.5 178.55)" >T0</text>
<rect x="502.4" y="180.65" width="2.4" height="2.3" fill="#27a327"/>
<text x="509.5" y="183.45000000000002" font-size="4.77" fill="#111" font-weight="bold" text-anchor="start" textLength="6.20" lengthAdjust="spacingAndGlyphs" stroke="#111" stroke-width="0.06" transform="rotate(0.06 509.5 183.45000000000002)" >T1</text>
<rect x="502.4" y="185.55" width="2.4" height="2.3" fill="#30ac20"/>
<text x="509.5" y="188.35000000000002" font-size="4.77" fill="#111" font-weight="bold" text-anchor="start" textLength="6.20" lengthAdjust="spacingAndGlyphs" stroke="#111" stroke-width="0.06" transform="rotate(0.06 509.5 188.35000000000002)" >T4</text>
<rect x="502.4" y="190.45" width="2.4" height="2.3" fill="#3ab52a"/>
<text x="509.5" y="193.25" font-size="4.77" fill="#111" font-weight="bold" text-anchor="start" textLength="6.20" lengthAdjust="spacingAndGlyphs" stroke="#111" stroke-width="0.06" transform="rotate(0.06 509.5 193.25)" >T7</text>
<rect x="502.4" y="195.35" width="2.4" height="2.3" fill="#48bd2a"/>
<text x="509.5" y="198.15" font-size="4.77" fill="#111" font-weight="bold" text-anchor="start" textLength="6.20" lengthAdjust="spacingAndGlyphs" stroke="#111" stroke-width="0.06" transform="rotate(0.06 509.5 198.15)" >T8</text>
<rect x="502.4" y="200.25" width="2.4" height="2.3" fill="#70c820"/>
<text x="509.5" y="203.05" font-size="4.77" fill="#111" font-weight="bold" text-anchor="start" textLength="9.33" lengthAdjust="spacingAndGlyphs" stroke="#111" stroke-width="0.06" transform="rotate(0.06 509.5 203.05)" >T10</text>
<rect x="502.4" y="205.15" width="2.4" height="2.3" fill="#a0d020"/>
<text x="509.5" y="207.95000000000002" font-size="4.77" fill="#111" font-weight="bold" text-anchor="start" textLength="9.33" lengthAdjust="spacingAndGlyphs" stroke="#111" stroke-width="0.06" transform="rotate(0.06 509.5 207.95000000000002)" >T12</text>
<rect x="502.4" y="210.05" width="2.4" height="2.3" fill="#c8d818"/>
<text x="509.5" y="212.85000000000002" font-size="4.77" fill="#111" font-weight="bold" text-anchor="start" textLength="9.33" lengthAdjust="spacingAndGlyphs" stroke="#111" stroke-width="0.06" transform="rotate(0.06 509.5 212.85000000000002)" >T20</text>
<rect x="502.4" y="214.95000000000002" width="2.4" height="2.3" fill="#e8d010"/>
<text x="509.5" y="217.75000000000003" font-size="4.77" fill="#111" font-weight="bold" text-anchor="start" textLength="9.33" lengthAdjust="spacingAndGlyphs" stroke="#111" stroke-width="0.06" transform="rotate(0.06 509.5 217.75000000000003)" >T28</text>
<rect x="502.4" y="219.85" width="2.4" height="2.3" fill="#f0c020"/>
<text x="509.5" y="222.65" font-size="4.77" fill="#111" font-weight="bold" text-anchor="start" textLength="9.33" lengthAdjust="spacingAndGlyphs" stroke="#111" stroke-width="0.06" transform="rotate(0.06 509.5 222.65)" >T30</text>
<rect x="502.4" y="224.75" width="2.4" height="2.3" fill="#f4b040"/>
<text x="509.5" y="227.55" font-size="4.77" fill="#111" font-weight="bold" text-anchor="start" textLength="9.33" lengthAdjust="spacingAndGlyphs" stroke="#111" stroke-width="0.06" transform="rotate(0.06 509.5 227.55)" >T35</text>
<rect x="502.4" y="229.65" width="2.4" height="2.3" fill="#f4a040"/>
<text x="509.5" y="232.45000000000002" font-size="4.77" fill="#111" font-weight="bold" text-anchor="start" textLength="9.33" lengthAdjust="spacingAndGlyphs" stroke="#111" stroke-width="0.06" transform="rotate(0.06 509.5 232.45000000000002)" >T42</text>
<rect x="502.4" y="234.55" width="2.4" height="2.3" fill="#f4a060"/>
<text x="509.5" y="237.35000000000002" font-size="4.77" fill="#111" font-weight="bold" text-anchor="start" textLength="9.33" lengthAdjust="spacingAndGlyphs" stroke="#111" stroke-width="0.06" transform="rotate(0.06 509.5 237.35000000000002)" >T63</text>
<rect x="502.4" y="239.45000000000002" width="2.4" height="2.3" fill="#f4a878"/>
<text x="509.5" y="242.25000000000003" font-size="4.77" fill="#111" font-weight="bold" text-anchor="start" textLength="9.33" lengthAdjust="spacingAndGlyphs" stroke="#111" stroke-width="0.06" transform="rotate(0.06 509.5 242.25000000000003)" >T70</text>
<rect x="502.4" y="244.35" width="2.4" height="2.3" fill="#f8b898"/>
<text x="509.5" y="247.15" font-size="4.77" fill="#111" font-weight="bold" text-anchor="start" textLength="9.33" lengthAdjust="spacingAndGlyphs" stroke="#111" stroke-width="0.06" transform="rotate(0.06 509.5 247.15)" >T75</text>
<rect x="502.4" y="249.25" width="2.4" height="2.3" fill="#f4c4c4"/>
<text x="509.5" y="252.05" font-size="4.77" fill="#111" font-weight="bold" text-anchor="start" textLength="9.33" lengthAdjust="spacingAndGlyphs" stroke="#111" stroke-width="0.06" transform="rotate(0.06 509.5 252.05)" >T91</text>
<rect x="502.4" y="254.15" width="2.4" height="2.3" fill="#f8dada"/>
<text x="509.5" y="256.95" font-size="4.77" fill="#111" font-weight="bold" text-anchor="start" textLength="9.33" lengthAdjust="spacingAndGlyphs" stroke="#111" stroke-width="0.06" transform="rotate(0.06 509.5 256.95)" >T98</text>
<rect x="502.4" y="259.05000000000007" width="2.4" height="2.3" fill="#cc1010"/>
<text x="509.5" y="261.85" font-size="4.77" fill="#111" font-weight="bold" text-anchor="start" textLength="12.46" lengthAdjust="spacingAndGlyphs" stroke="#111" stroke-width="0.06" transform="rotate(0.06 509.5 261.85)" >T140</text>
<rect x="502.4" y="263.95000000000005" width="2.4" height="2.3" fill="#a00808"/>
<text x="509.5" y="266.75" font-size="4.77" fill="#111" font-weight="bold" text-anchor="start" textLength="12.46" lengthAdjust="spacingAndGlyphs" stroke="#111" stroke-width="0.06" transform="rotate(0.06 509.5 266.75)" >T147</text>
<rect x="502.4" y="268.85" width="2.4" height="2.3" fill="#600000"/>
<text x="509.5" y="271.65" font-size="4.77" fill="#111" font-weight="bold" text-anchor="start" textLength="12.46" lengthAdjust="spacingAndGlyphs" stroke="#111" stroke-width="0.06" transform="rotate(0.06 509.5 271.65)" >T365</text>
<path d="M254.00 261.93L256.80 261.93 M254.00 261.93L254.00 274.00 M256.80 261.93L256.80 274.00 M255.40 256.30L259.60 256.30 M255.40 256.30L255.40 261.93 M259.60 256.30L259.60 274.00 M262.40 265.90L265.20 265.90 M262.40 265.90L262.40 274.00 M265.20 265.90L265.20 274.00 M263.80 262.60L268.00 262.60 M263.80 262.60L263.80 265.90 M268.00 262.60L268.00 274.00 M270.80 265.58L273.60 265.58 M270.80 265.58L270.80 274.00 M273.60 265.58L273.60 274.00 M272.20 261.50L276.40 261.50 M272.20 261.50L272.20 265.58 M276.40 261.50L276.40 274.00 M265.90 251.40L274.30 251.40 M265.90 251.40L265.90 262.60 M274.30 251.40L274.30 261.50 M257.50 247.40L270.10 247.40 M257.50 247.40L257.50 256.30 M270.10 247.40L270.10 251.40 M279.20 266.54L282.00 266.54 M279.20 266.54L279.20 274.00 M282.00 266.54L282.00 274.00 M280.60 261.81L284.80 261.81 M280.60 261.81L280.60 266.54 M284.80 261.81L284.80 274.00 M287.60 262.17L290.40 262.17 M287.60 262.17L287.60 274.00 M290.40 262.17L290.40 274.00 M293.20 265.27L296.00 265.27 M293.20 265.27L293.20 274.00 M296.00 265.27L296.00 274.00 M289.00 259.62L294.60 259.62 M289.00 259.62L289.00 262.17 M294.60 259.62L294.60 265.27 M282.70 256.50L291.80 256.50 M282.70 256.50L282.70 261.81 M291.80 256.50L291.80 259.62 M298.80 255.60L301.60 255.60 M298.80 255.60L298.80 274.00 M301.60 255.60L301.60 274.00 M287.25 252.60L300.20 252.60 M287.25 252.60L287.25 256.50 M300.20 252.60L300.20 255.60 M304.40 267.97L307.20 267.97 M304.40 267.97L304.40 274.00 M307.20 267.97L307.20 274.00 M305.80 264.94L310.00 264.94 M305.80 264.94L305.80 267.97 M310.00 264.94L310.00 274.00 M307.90 257.84L312.80 257.84 M307.90 257.84L307.90 264.94 M312.80 257.84L312.80 274.00 M315.60 258.51L318.40 258.51 M315.60 258.51L315.60 274.00 M318.40 258.51L318.40 274.00 M310.35 254.70L317.00 254.70 M310.35 254.70L310.35 257.84 M317.00 254.70L317.00 258.51 M324.00 261.69L326.80 261.69 M324.00 261.69L324.00 274.00 M326.80 261.69L326.80 274.00 M321.20 256.20L325.40 256.20 M321.20 256.20L321.20 274.00 M325.40 256.20L325.40 261.69 M329.60 256.90L332.40 256.90 M329.60 256.90L329.60 274.00 M332.40 256.90L332.40 274.00 M323.30 252.60L331.00 252.60 M323.30 252.60L323.30 256.20 M331.00 252.60L331.00 256.90 M313.68 247.50L327.15 247.50 M313.68 247.50L313.68 254.70 M327.15 247.50L327.15 252.60 M293.73 244.20L320.41 244.20 M293.73 244.20L293.73 252.60 M320.41 244.20L320.41 247.50 M263.80 233.00L307.07 233.00 M263.80 233.00L263.80 247.40 M307.07 233.00L307.07 244.20 M338.00 257.98L340.80 257.98 M338.00 257.98L338.00 274.00 M340.80 257.98L340.80 274.00 M335.20 253.80L339.40 253.80 M335.20 253.80L335.20 274.00 M339.40 253.80L339.40 257.98 M343.60 263.50L346.40 263.50 M343.60 263.50L343.60 274.00 M346.40 263.50L346.40 274.00 M349.20 246.20L363.20 246.20 M349.20 246.20L349.20 274.00 M352.00 246.20L352.00 274.00 M354.80 246.20L354.80 274.00 M357.60 246.20L357.60 274.00 M360.40 246.20L360.40 274.00 M363.20 246.20L363.20 274.00 M345.00 238.30L356.20 238.30 M345.00 238.30L345.00 263.50 M356.20 238.30L356.20 246.20 M337.30 236.70L350.60 236.70 M337.30 236.70L337.30 253.80 M350.60 236.70L350.60 238.30 M366.00 254.91L368.80 254.91 M366.00 254.91L366.00 274.00 M368.80 254.91L368.80 274.00 M367.40 251.30L371.60 251.30 M367.40 251.30L367.40 254.91 M371.60 251.30L371.60 274.00 M374.40 264.52L377.20 264.52 M374.40 264.52L374.40 274.00 M377.20 264.52L377.20 274.00 M375.80 260.80L380.00 260.80 M375.80 260.80L375.80 264.52 M380.00 260.80L380.00 274.00 M382.80 261.41L385.60 261.41 M382.80 261.41L382.80 274.00 M385.60 261.41L385.60 274.00 M384.20 256.02L388.40 256.02 M384.20 256.02L384.20 261.41 M388.40 256.02L388.40 274.00 M386.30 248.10L391.20 248.10 M386.30 248.10L386.30 256.02 M391.20 248.10L391.20 274.00 M377.90 242.40L388.75 242.40 M377.90 242.40L377.90 260.80 M388.75 242.40L388.75 248.10 M369.50 236.30L383.32 236.30 M369.50 236.30L369.50 251.30 M383.32 236.30L383.32 242.40 M343.95 230.10L376.41 230.10 M343.95 230.10L343.95 236.70 M376.41 230.10L376.41 236.30 M394.00 264.60L402.40 264.60 M394.00 264.60L394.00 274.00 M396.80 264.60L396.80 274.00 M399.60 264.60L399.60 274.00 M402.40 264.60L402.40 274.00 M405.20 265.64L408.00 265.64 M405.20 265.64L405.20 274.00 M408.00 265.64L408.00 274.00 M410.80 265.63L413.60 265.63 M410.80 265.63L410.80 274.00 M413.60 265.63L413.60 274.00 M406.60 258.82L412.20 258.82 M406.60 258.82L406.60 265.64 M412.20 258.82L412.20 265.63 M416.40 261.26L419.20 261.26 M416.40 261.26L416.40 274.00 M419.20 261.26L419.20 274.00 M409.40 252.70L417.80 252.70 M409.40 252.70L409.40 258.82 M417.80 252.70L417.80 261.26 M398.20 245.30L413.60 245.30 M398.20 245.30L398.20 264.60 M413.60 245.30L413.60 252.70 M422.00 258.59L424.80 258.59 M422.00 258.59L422.00 274.00 M424.80 258.59L424.80 274.00 M423.40 253.60L427.60 253.60 M423.40 253.60L423.40 258.59 M427.60 253.60L427.60 274.00 M430.40 258.43L433.20 258.43 M430.40 258.43L430.40 274.00 M433.20 258.43L433.20 274.00 M436.00 261.66L438.80 261.66 M436.00 261.66L436.00 274.00 M438.80 261.66L438.80 274.00 M437.40 257.09L441.60 257.09 M437.40 257.09L437.40 261.66 M441.60 257.09L441.60 274.00 M431.80 253.60L439.50 253.60 M431.80 253.60L431.80 258.43 M439.50 253.60L439.50 257.09 M425.50 249.90L435.65 249.90 M425.50 249.90L425.50 253.60 M435.65 249.90L435.65 253.60 M444.40 262.40L447.20 262.40 M444.40 262.40L444.40 274.00 M447.20 262.40L447.20 274.00 M445.80 258.20L450.00 258.20 M445.80 258.20L445.80 262.40 M450.00 258.20L450.00 274.00 M455.60 266.92L458.40 266.92 M455.60 266.92L455.60 274.00 M458.40 266.92L458.40 274.00 M457.00 264.01L461.20 264.01 M457.00 264.01L457.00 266.92 M461.20 264.01L461.20 274.00 M452.80 261.31L459.10 261.31 M452.80 261.31L452.80 274.00 M459.10 261.31L459.10 264.01 M455.95 252.70L464.00 252.70 M455.95 252.70L455.95 261.31 M464.00 252.70L464.00 274.00 M447.90 248.50L459.98 248.50 M447.90 248.50L447.90 258.20 M459.98 248.50L459.98 252.70 M430.57 246.60L453.94 246.60 M430.57 246.60L430.57 249.90 M453.94 246.60L453.94 248.50 M466.80 267.40L469.60 267.40 M466.80 267.40L466.80 274.00 M469.60 267.40L469.60 274.00 M475.20 264.14L478.00 264.14 M475.20 264.14L475.20 274.00 M478.00 264.14L478.00 274.00 M472.40 259.09L476.60 259.09 M472.40 259.09L472.40 274.00 M476.60 259.09L476.60 264.14 M474.50 253.60L480.80 253.60 M474.50 253.60L474.50 259.09 M480.80 253.60L480.80 274.00 M483.60 258.54L486.40 258.54 M483.60 258.54L483.60 274.00 M486.40 258.54L486.40 274.00 M489.20 262.44L492.00 262.44 M489.20 262.44L489.20 274.00 M492.00 262.44L492.00 274.00 M485.00 253.39L490.60 253.39 M485.00 253.39L485.00 258.54 M490.60 253.39L490.60 262.44 M487.80 247.20L494.80 247.20 M487.80 247.20L487.80 253.39 M494.80 247.20L494.80 274.00 M477.65 242.20L491.30 242.20 M477.65 242.20L477.65 253.60 M491.30 242.20L491.30 247.20 M468.20 237.00L484.47 237.00 M468.20 237.00L468.20 267.40 M484.47 237.00L484.47 242.20 M442.26 233.00L476.34 233.00 M442.26 233.00L442.26 246.60 M476.34 233.00L476.34 237.00 M405.90 222.40L459.30 222.40 M405.90 222.40L405.90 245.30 M459.30 222.40L459.30 233.00 M360.18 213.60L432.60 213.60 M360.18 213.60L360.18 230.10 M432.60 213.60L432.60 222.40 M285.43 184.20L396.39 184.20 M285.43 184.20L285.43 233.00 M396.39 184.20L396.39 213.60" stroke="#aaaaaa" stroke-width="0.5" fill="none"/>
<rect x="252.6" y="275.6" width="16.6" height="2.2" fill="#f2c0ac" fill-opacity="0.6"/>
<rect x="252.6" y="277.8" width="16.6" height="1.8" fill="#f2c0ac" fill-opacity="0.1"/>
<rect x="252.6" y="279.6" width="16.6" height="3.0" fill="#f2c0ac" fill-opacity="0.72"/>
<rect x="252.6" y="282.6" width="16.6" height="0.4" fill="#f2c0ac" fill-opacity="0.25"/>
<rect x="252.6" y="283.0" width="16.6" height="2.0" fill="#f2c0ac" fill-opacity="0.5"/>
<rect x="252.6" y="285.0" width="16.6" height="1.3" fill="#f2c0ac" fill-opacity="0.1"/>
<rect x="252.6" y="286.3" width="16.6" height="3.1" fill="#f2c0ac" fill-opacity="0.72"/>
<rect x="252.6" y="289.4" width="16.6" height="0.8" fill="#f2c0ac" fill-opacity="0.2"/>
<rect x="252.6" y="290.2" width="16.6" height="4.2" fill="#f2c0ac" fill-opacity="0.6"/>
<rect x="269.2" y="275.6" width="8.4" height="2.2" fill="#9a5060" fill-opacity="0.6"/>
<rect x="269.2" y="277.8" width="8.4" height="1.8" fill="#9a5060" fill-opacity="0.1"/>
<rect x="269.2" y="279.6" width="8.4" height="3.0" fill="#9a5060" fill-opacity="0.72"/>
<rect x="269.2" y="282.6" width="8.4" height="0.4" fill="#9a5060" fill-opacity="0.25"/>
<rect x="269.2" y="283.0" width="8.4" height="2.0" fill="#9a5060" fill-opacity="0.5"/>
<rect x="269.2" y="285.0" width="8.4" height="1.3" fill="#9a5060" fill-opacity="0.1"/>
<rect x="269.2" y="286.3" width="8.4" height="3.1" fill="#9a5060" fill-opacity="0.72"/>
<rect x="269.2" y="289.4" width="8.4" height="0.8" fill="#9a5060" fill-opacity="0.2"/>
<rect x="269.2" y="290.2" width="8.4" height="4.2" fill="#9a5060" fill-opacity="0.6"/>
<rect x="277.6" y="275.6" width="12.4" height="2.2" fill="#c8e838" fill-opacity="0.6"/>
<rect x="277.6" y="277.8" width="12.4" height="1.8" fill="#c8e838" fill-opacity="0.1"/>
<rect x="277.6" y="279.6" width="12.4" height="3.0" fill="#c8e838" fill-opacity="0.72"/>
<rect x="277.6" y="282.6" width="12.4" height="0.4" fill="#c8e838" fill-opacity="0.25"/>
<rect x="277.6" y="283.0" width="12.4" height="2.0" fill="#c8e838" fill-opacity="0.5"/>
<rect x="277.6" y="285.0" width="12.4" height="1.3" fill="#c8e838" fill-opacity="0.1"/>
<rect x="277.6" y="286.3" width="12.4" height="3.1" fill="#c8e838" fill-opacity="0.72"/>
<rect x="277.6" y="289.4" width="12.4" height="0.8" fill="#c8e838" fill-opacity="0.2"/>
<rect x="277.6" y="290.2" width="12.4" height="4.2" fill="#c8e838" fill-opacity="0.6"/>
<rect x="290.0" y="275.6" width="10.0" height="2.2" fill="#e0e840" fill-opacity="0.6"/>
<rect x="290.0" y="277.8" width="10.0" height="1.8" fill="#e0e840" fill-opacity="0.1"/>
<rect x="290.0" y="279.6" width="10.0" height="3.0" fill="#e0e840" fill-opacity="0.72"/>
<rect x="290.0" y="282.6" width="10.0" height="0.4" fill="#e0e840" fill-opacity="0.25"/>
<rect x="290.0" y="283.0" width="10.0" height="2.0" fill="#e0e840" fill-opacity="0.5"/>
<rect x="290.0" y="285.0" width="10.0" height="1.3" fill="#e0e840" fill-opacity="0.1"/>
<rect x="290.0" y="286.3" width="10.0" height="3.1" fill="#e0e840" fill-opacity="0.72"/>
<rect x="290.0" y="289.4" width="10.0" height="0.8" fill="#e0e840" fill-opacity="0.2"/>
<rect x="290.0" y="290.2" width="10.0" height="4.2" fill="#e0e840" fill-opacity="0.6"/>
<rect x="300.0" y="275.6" width="26.0" height="2.2" fill="#58c828" fill-opacity="0.6"/>
<rect x="300.0" y="277.8" width="26.0" height="1.8" fill="#58c828" fill-opacity="0.1"/>
<rect x="300.0" y="279.6" width="26.0" height="3.0" fill="#58c828" fill-opacity="0.72"/>
<rect x="300.0" y="282.6" width="26.0" height="0.4" fill="#58c828" fill-opacity="0.25"/>
<rect x="300.0" y="283.0" width="26.0" height="2.0" fill="#58c828" fill-opacity="0.5"/>
<rect x="300.0" y="285.0" width="26.0" height="1.3" fill="#58c828" fill-opacity="0.1"/>
<rect x="300.0" y="286.3" width="26.0" height="3.1" fill="#58c828" fill-opacity="0.72"/>
<rect x="300.0" y="289.4" width="26.0" height="0.8" fill="#58c828" fill-opacity="0.2"/>
<rect x="300.0" y="290.2" width="26.0" height="4.2" fill="#58c828" fill-opacity="0.6"/>
<rect x="326.0" y="275.6" width="4.0" height="2.2" fill="#f0c840" fill-opacity="0.6"/>
<rect x="326.0" y="277.8" width="4.0" height="1.8" fill="#f0c840" fill-opacity="0.1"/>
<rect x="326.0" y="279.6" width="4.0" height="3.0" fill="#f0c840" fill-opacity="0.72"/>
<rect x="326.0" y="282.6" width="4.0" height="0.4" fill="#f0c840" fill-opacity="0.25"/>
<rect x="326.0" y="283.0" width="4.0" height="2.0" fill="#f0c840" fill-opacity="0.5"/>
<rect x="326.0" y="285.0" width="4.0" height="1.3" fill="#f0c840" fill-opacity="0.1"/>
<rect x="326.0" y="286.3" width="4.0" height="3.1" fill="#f0c840" fill-opacity="0.72"/>
<rect x="326.0" y="289.4" width="4.0" height="0.8" fill="#f0c840" fill-opacity="0.2"/>
<rect x="326.0" y="290.2" width="4.0" height="4.2" fill="#f0c840" fill-opacity="0.6"/>
<rect x="330.0" y="275.6" width="4.0" height="2.2" fill="#58c828" fill-opacity="0.6"/>
<rect x="330.0" y="277.8" width="4.0" height="1.8" fill="#58c828" fill-opacity="0.1"/>
<rect x="330.0" y="279.6" width="4.0" height="3.0" fill="#58c828" fill-opacity="0.72"/>
<rect x="330.0" y="282.6" width="4.0" height="0.4" fill="#58c828" fill-opacity="0.25"/>
<rect x="330.0" y="283.0" width="4.0" height="2.0" fill="#58c828" fill-opacity="0.5"/>
<rect x="330.0" y="285.0" width="4.0" height="1.3" fill="#58c828" fill-opacity="0.1"/>
<rect x="330.0" y="286.3" width="4.0" height="3.1" fill="#58c828" fill-opacity="0.72"/>
<rect x="330.0" y="289.4" width="4.0" height="0.8" fill="#58c828" fill-opacity="0.2"/>
<rect x="330.0" y="290.2" width="4.0" height="4.2" fill="#58c828" fill-opacity="0.6"/>
<rect x="334.0" y="275.6" width="8.0" height="2.2" fill="#c8e050" fill-opacity="0.6"/>
<rect x="334.0" y="277.8" width="8.0" height="1.8" fill="#c8e050" fill-opacity="0.1"/>
<rect x="334.0" y="279.6" width="8.0" height="3.0" fill="#c8e050" fill-opacity="0.72"/>
<rect x="334.0" y="282.6" width="8.0" height="0.4" fill="#c8e050" fill-opacity="0.25"/>
<rect x="334.0" y="283.0" width="8.0" height="2.0" fill="#c8e050" fill-opacity="0.5"/>
<rect x="334.0" y="285.0" width="8.0" height="1.3" fill="#c8e050" fill-opacity="0.1"/>
<rect x="334.0" y="286.3" width="8.0" height="3.1" fill="#c8e050" fill-opacity="0.72"/>
<rect x="334.0" y="289.4" width="8.0" height="0.8" fill="#c8e050" fill-opacity="0.2"/>
<rect x="334.0" y="290.2" width="8.0" height="4.2" fill="#c8e050" fill-opacity="0.6"/>
<rect x="342.0" y="275.6" width="10.0" height="2.2" fill="#f2b060" fill-opacity="0.6"/>
<rect x="342.0" y="277.8" width="10.0" height="1.8" fill="#f2b060" fill-opacity="0.1"/>
<rect x="342.0" y="279.6" width="10.0" height="3.0" fill="#f2b060" fill-opacity="0.72"/>
<rect x="342.0" y="282.6" width="10.0" height="0.4" fill="#f2b060" fill-opacity="0.25"/>
<rect x="342.0" y="283.0" width="10.0" height="2.0" fill="#f2b060" fill-opacity="0.5"/>
<rect x="342.0" y="285.0" width="10.0" height="1.3" fill="#f2b060" fill-opacity="0.1"/>
<rect x="342.0" y="286.3" width="10.0" height="3.1" fill="#f2b060" fill-opacity="0.72"/>
<rect x="342.0" y="289.4" width="10.0" height="0.8" fill="#f2b060" fill-opacity="0.2"/>
<rect x="342.0" y="290.2" width="10.0" height="4.2" fill="#f2b060" fill-opacity="0.6"/>
<rect x="352.0" y="275.6" width="8.0" height="2.2" fill="#58c828" fill-opacity="0.6"/>
<rect x="352.0" y="277.8" width="8.0" height="1.8" fill="#58c828" fill-opacity="0.1"/>
<rect x="352.0" y="279.6" width="8.0" height="3.0" fill="#58c828" fill-opacity="0.72"/>
<rect x="352.0" y="282.6" width="8.0" height="0.4" fill="#58c828" fill-opacity="0.25"/>
<rect x="352.0" y="283.0" width="8.0" height="2.0" fill="#58c828" fill-opacity="0.5"/>
<rect x="352.0" y="285.0" width="8.0" height="1.3" fill="#58c828" fill-opacity="0.1"/>
<rect x="352.0" y="286.3" width="8.0" height="3.1" fill="#58c828" fill-opacity="0.72"/>
<rect x="352.0" y="289.4" width="8.0" height="0.8" fill="#58c828" fill-opacity="0.2"/>
<rect x="352.0" y="290.2" width="8.0" height="4.2" fill="#58c828" fill-opacity="0.6"/>
<rect x="360.0" y="275.6" width="3.0" height="2.2" fill="#f0e040" fill-opacity="0.6"/>
<rect x="360.0" y="277.8" width="3.0" height="1.8" fill="#f0e040" fill-opacity="0.1"/>
<rect x="360.0" y="279.6" width="3.0" height="3.0" fill="#f0e040" fill-opacity="0.72"/>
<rect x="360.0" y="282.6" width="3.0" height="0.4" fill="#f0e040" fill-opacity="0.25"/>
<rect x="360.0" y="283.0" width="3.0" height="2.0" fill="#f0e040" fill-opacity="0.5"/>
<rect x="360.0" y="285.0" width="3.0" height="1.3" fill="#f0e040" fill-opacity="0.1"/>
<rect x="360.0" y="286.3" width="3.0" height="3.1" fill="#f0e040" fill-opacity="0.72"/>
<rect x="360.0" y="289.4" width="3.0" height="0.8" fill="#f0e040" fill-opacity="0.2"/>
<rect x="360.0" y="290.2" width="3.0" height="4.2" fill="#f0e040" fill-opacity="0.6"/>
<rect x="363.0" y="275.6" width="3.0" height="2.2" fill="#58c828" fill-opacity="0.6"/>
<rect x="363.0" y="277.8" width="3.0" height="1.8" fill="#58c828" fill-opacity="0.1"/>
<rect x="363.0" y="279.6" width="3.0" height="3.0" fill="#58c828" fill-opacity="0.72"/>
<rect x="363.0" y="282.6" width="3.0" height="0.4" fill="#58c828" fill-opacity="0.25"/>
<rect x="363.0" y="283.0" width="3.0" height="2.0" fill="#58c828" fill-opacity="0.5"/>
<rect x="363.0" y="285.0" width="3.0" height="1.3" fill="#58c828" fill-opacity="0.1"/>
<rect x="363.0" y="286.3" width="3.0" height="3.1" fill="#58c828" fill-opacity="0.72"/>
<rect x="363.0" y="289.4" width="3.0" height="0.8" fill="#58c828" fill-opacity="0.2"/>
<rect x="363.0" y="290.2" width="3.0" height="4.2" fill="#58c828" fill-opacity="0.6"/>
<rect x="366.0" y="275.6" width="8.0" height="2.2" fill="#f0c840" fill-opacity="0.6"/>
<rect x="366.0" y="277.8" width="8.0" height="1.8" fill="#f0c840" fill-opacity="0.1"/>
<rect x="366.0" y="279.6" width="8.0" height="3.0" fill="#f0c840" fill-opacity="0.72"/>
<rect x="366.0" y="282.6" width="8.0" height="0.4" fill="#f0c840" fill-opacity="0.25"/>
<rect x="366.0" y="283.0" width="8.0" height="2.0" fill="#f0c840" fill-opacity="0.5"/>
<rect x="366.0" y="285.0" width="8.0" height="1.3" fill="#f0c840" fill-opacity="0.1"/>
<rect x="366.0" y="286.3" width="8.0" height="3.1" fill="#f0c840" fill-opacity="0.72"/>
<rect x="366.0" y="289.4" width="8.0" height="0.8" fill="#f0c840" fill-opacity="0.2"/>
<rect x="366.0" y="290.2" width="8.0" height="4.2" fill="#f0c840" fill-opacity="0.6"/>
<rect x="374.0" y="275.6" width="8.0" height="2.2" fill="#d05868" fill-opacity="0.6"/>
<rect x="374.0" y="277.8" width="8.0" height="1.8" fill="#d05868" fill-opacity="0.1"/>
<rect x="374.0" y="279.6" width="8.0" height="3.0" fill="#d05868" fill-opacity="0.72"/>
<rect x="374.0" y="282.6" width="8.0" height="0.4" fill="#d05868" fill-opacity="0.25"/>
<rect x="374.0" y="283.0" width="8.0" height="2.0" fill="#d05868" fill-opacity="0.5"/>
<rect x="374.0" y="285.0" width="8.0" height="1.3" fill="#d05868" fill-opacity="0.1"/>
<rect x="374.0" y="286.3" width="8.0" height="3.1" fill="#d05868" fill-opacity="0.72"/>
<rect x="374.0" y="289.4" width="8.0" height="0.8" fill="#d05868" fill-opacity="0.2"/>
<rect x="374.0" y="290.2" width="8.0" height="4.2" fill="#d05868" fill-opacity="0.6"/>
<rect x="382.0" y="275.6" width="8.0" height="2.2" fill="#f0e040" fill-opacity="0.6"/>
<rect x="382.0" y="277.8" width="8.0" height="1.8" fill="#f0e040" fill-opacity="0.1"/>
<rect x="382.0" y="279.6" width="8.0" height="3.0" fill="#f0e040" fill-opacity="0.72"/>
<rect x="382.0" y="282.6" width="8.0" height="0.4" fill="#f0e040" fill-opacity="0.25"/>
<rect x="382.0" y="283.0" width="8.0" height="2.0" fill="#f0e040" fill-opacity="0.5"/>
<rect x="382.0" y="285.0" width="8.0" height="1.3" fill="#f0e040" fill-opacity="0.1"/>
<rect x="382.0" y="286.3" width="8.0" height="3.1" fill="#f0e040" fill-opacity="0.72"/>
<rect x="382.0" y="289.4" width="8.0" height="0.8" fill="#f0e040" fill-opacity="0.2"/>
<rect x="382.0" y="290.2" width="8.0" height="4.2" fill="#f0e040" fill-opacity="0.6"/>
<rect x="390.0" y="275.6" width="12.0" height="2.2" fill="#f6c090" fill-opacity="0.6"/>
<rect x="390.0" y="277.8" width="12.0" height="1.8" fill="#f6c090" fill-opacity="0.1"/>
<rect x="390.0" y="279.6" width="12.0" height="3.0" fill="#f6c090" fill-opacity="0.72"/>
<rect x="390.0" y="282.6" width="12.0" height="0.4" fill="#f6c090" fill-opacity="0.25"/>
<rect x="390.0" y="283.0" width="12.0" height="2.0" fill="#f6c090" fill-opacity="0.5"/>
<rect x="390.0" y="285.0" width="12.0" height="1.3" fill="#f6c090" fill-opacity="0.1"/>
<rect x="390.0" y="286.3" width="12.0" height="3.1" fill="#f6c090" fill-opacity="0.72"/>
<rect x="390.0" y="289.4" width="12.0" height="0.8" fill="#f6c090" fill-opacity="0.2"/>
<rect x="390.0" y="290.2" width="12.0" height="4.2" fill="#f6c090" fill-opacity="0.6"/>
<rect x="402.0" y="275.6" width="3.0" height="2.2" fill="#58c828" fill-opacity="0.6"/>
<rect x="402.0" y="277.8" width="3.0" height="1.8" fill="#58c828" fill-opacity="0.1"/>
<rect x="402.0" y="279.6" width="3.0" height="3.0" fill="#58c828" fill-opacity="0.72"/>
<rect x="402.0" y="282.6" width="3.0" height="0.4" fill="#58c828" fill-opacity="0.25"/>
<rect x="402.0" y="283.0" width="3.0" height="2.0" fill="#58c828" fill-opacity="0.5"/>
<rect x="402.0" y="285.0" width="3.0" height="1.3" fill="#58c828" fill-opacity="0.1"/>
<rect x="402.0" y="286.3" width="3.0" height="3.1" fill="#58c828" fill-opacity="0.72"/>
<rect x="402.0" y="289.4" width="3.0" height="0.8" fill="#58c828" fill-opacity="0.2"/>
<rect x="402.0" y="290.2" width="3.0" height="4.2" fill="#58c828" fill-opacity="0.6"/>
<rect x="405.0" y="275.6" width="3.0" height="2.2" fill="#f4a860" fill-opacity="0.6"/>
<rect x="405.0" y="277.8" width="3.0" height="1.8" fill="#f4a860" fill-opacity="0.1"/>
<rect x="405.0" y="279.6" width="3.0" height="3.0" fill="#f4a860" fill-opacity="0.72"/>
<rect x="405.0" y="282.6" width="3.0" height="0.4" fill="#f4a860" fill-opacity="0.25"/>
<rect x="405.0" y="283.0" width="3.0" height="2.0" fill="#f4a860" fill-opacity="0.5"/>
<rect x="405.0" y="285.0" width="3.0" height="1.3" fill="#f4a860" fill-opacity="0.1"/>
<rect x="405.0" y="286.3" width="3.0" height="3.1" fill="#f4a860" fill-opacity="0.72"/>
<rect x="405.0" y="289.4" width="3.0" height="0.8" fill="#f4a860" fill-opacity="0.2"/>
<rect x="405.0" y="290.2" width="3.0" height="4.2" fill="#f4a860" fill-opacity="0.6"/>
<rect x="408.0" y="275.6" width="2.0" height="2.2" fill="#58c828" fill-opacity="0.6"/>
<rect x="408.0" y="277.8" width="2.0" height="1.8" fill="#58c828" fill-opacity="0.1"/>
<rect x="408.0" y="279.6" width="2.0" height="3.0" fill="#58c828" fill-opacity="0.72"/>
<rect x="408.0" y="282.6" width="2.0" height="0.4" fill="#58c828" fill-opacity="0.25"/>
<rect x="408.0" y="283.0" width="2.0" height="2.0" fill="#58c828" fill-opacity="0.5"/>
<rect x="408.0" y="285.0" width="2.0" height="1.3" fill="#58c828" fill-opacity="0.1"/>
<rect x="408.0" y="286.3" width="2.0" height="3.1" fill="#58c828" fill-opacity="0.72"/>
<rect x="408.0" y="289.4" width="2.0" height="0.8" fill="#58c828" fill-opacity="0.2"/>
<rect x="408.0" y="290.2" width="2.0" height="4.2" fill="#58c828" fill-opacity="0.6"/>
<rect x="410.0" y="275.6" width="3.0" height="2.2" fill="#f4a860" fill-opacity="0.6"/>
<rect x="410.0" y="277.8" width="3.0" height="1.8" fill="#f4a860" fill-opacity="0.1"/>
<rect x="410.0" y="279.6" width="3.0" height="3.0" fill="#f4a860" fill-opacity="0.72"/>
<rect x="410.0" y="282.6" width="3.0" height="0.4" fill="#f4a860" fill-opacity="0.25"/>
<rect x="410.0" y="283.0" width="3.0" height="2.0" fill="#f4a860" fill-opacity="0.5"/>
<rect x="410.0" y="285.0" width="3.0" height="1.3" fill="#f4a860" fill-opacity="0.1"/>
<rect x="410.0" y="286.3" width="3.0" height="3.1" fill="#f4a860" fill-opacity="0.72"/>
<rect x="410.0" y="289.4" width="3.0" height="0.8" fill="#f4a860" fill-opacity="0.2"/>
<rect x="410.0" y="290.2" width="3.0" height="4.2" fill="#f4a860" fill-opacity="0.6"/>
<rect x="413.0" y="275.6" width="3.0" height="2.2" fill="#58c828" fill-opacity="0.6"/>
<rect x="413.0" y="277.8" width="3.0" height="1.8" fill="#58c828" fill-opacity="0.1"/>
<rect x="413.0" y="279.6" width="3.0" height="3.0" fill="#58c828" fill-opacity="0.72"/>
<rect x="413.0" y="282.6" width="3.0" height="0.4" fill="#58c828" fill-opacity="0.25"/>
<rect x="413.0" y="283.0" width="3.0" height="2.0" fill="#58c828" fill-opacity="0.5"/>
<rect x="413.0" y="285.0" width="3.0" height="1.3" fill="#58c828" fill-opacity="0.1"/>
<rect x="413.0" y="286.3" width="3.0" height="3.1" fill="#58c828" fill-opacity="0.72"/>
<rect x="413.0" y="289.4" width="3.0" height="0.8" fill="#58c828" fill-opacity="0.2"/>
<rect x="413.0" y="290.2" width="3.0" height="4.2" fill="#58c828" fill-opacity="0.6"/>
<rect x="416.0" y="275.6" width="5.0" height="2.2" fill="#f4a860" fill-opacity="0.6"/>
<rect x="416.0" y="277.8" width="5.0" height="1.8" fill="#f4a860" fill-opacity="0.1"/>
<rect x="416.0" y="279.6" width="5.0" height="3.0" fill="#f4a860" fill-opacity="0.72"/>
<rect x="416.0" y="282.6" width="5.0" height="0.4" fill="#f4a860" fill-opacity="0.25"/>
<rect x="416.0" y="283.0" width="5.0" height="2.0" fill="#f4a860" fill-opacity="0.5"/>
<rect x="416.0" y="285.0" width="5.0" height="1.3" fill="#f4a860" fill-opacity="0.1"/>
<rect x="416.0" y="286.3" width="5.0" height="3.1" fill="#f4a860" fill-opacity="0.72"/>
<rect x="416.0" y="289.4" width="5.0" height="0.8" fill="#f4a860" fill-opacity="0.2"/>
<rect x="416.0" y="290.2" width="5.0" height="4.2" fill="#f4a860" fill-opacity="0.6"/>
<rect x="421.0" y="275.6" width="3.0" height="2.2" fill="#d05868" fill-opacity="0.6"/>
<rect x="421.0" y="277.8" width="3.0" height="1.8" fill="#d05868" fill-opacity="0.1"/>
<rect x="421.0" y="279.6" width="3.0" height="3.0" fill="#d05868" fill-opacity="0.72"/>
<rect x="421.0" y="282.6" width="3.0" height="0.4" fill="#d05868" fill-opacity="0.25"/>
<rect x="421.0" y="283.0" width="3.0" height="2.0" fill="#d05868" fill-opacity="0.5"/>
<rect x="421.0" y="285.0" width="3.0" height="1.3" fill="#d05868" fill-opacity="0.1"/>
<rect x="421.0" y="286.3" width="3.0" height="3.1" fill="#d05868" fill-opacity="0.72"/>
<rect x="421.0" y="289.4" width="3.0" height="0.8" fill="#d05868" fill-opacity="0.2"/>
<rect x="421.0" y="290.2" width="3.0" height="4.2" fill="#d05868" fill-opacity="0.6"/>
<rect x="424.0" y="275.6" width="3.0" height="2.2" fill="#f8d0d0" fill-opacity="0.6"/>
<rect x="424.0" y="277.8" width="3.0" height="1.8" fill="#f8d0d0" fill-opacity="0.1"/>
<rect x="424.0" y="279.6" width="3.0" height="3.0" fill="#f8d0d0" fill-opacity="0.72"/>
<rect x="424.0" y="282.6" width="3.0" height="0.4" fill="#f8d0d0" fill-opacity="0.25"/>
<rect x="424.0" y="283.0" width="3.0" height="2.0" fill="#f8d0d0" fill-opacity="0.5"/>
<rect x="424.0" y="285.0" width="3.0" height="1.3" fill="#f8d0d0" fill-opacity="0.1"/>
<rect x="424.0" y="286.3" width="3.0" height="3.1" fill="#f8d0d0" fill-opacity="0.72"/>
<rect x="424.0" y="289.4" width="3.0" height="0.8" fill="#f8d0d0" fill-opacity="0.2"/>
<rect x="424.0" y="290.2" width="3.0" height="4.2" fill="#f8d0d0" fill-opacity="0.6"/>
<rect x="427.0" y="275.6" width="3.0" height="2.2" fill="#d05868" fill-opacity="0.6"/>
<rect x="427.0" y="277.8" width="3.0" height="1.8" fill="#d05868" fill-opacity="0.1"/>
<rect x="427.0" y="279.6" width="3.0" height="3.0" fill="#d05868" fill-opacity="0.72"/>
<rect x="427.0" y="282.6" width="3.0" height="0.4" fill="#d05868" fill-opacity="0.25"/>
<rect x="427.0" y="283.0" width="3.0" height="2.0" fill="#d05868" fill-opacity="0.5"/>
<rect x="427.0" y="285.0" width="3.0" height="1.3" fill="#d05868" fill-opacity="0.1"/>
<rect x="427.0" y="286.3" width="3.0" height="3.1" fill="#d05868" fill-opacity="0.72"/>
<rect x="427.0" y="289.4" width="3.0" height="0.8" fill="#d05868" fill-opacity="0.2"/>
<rect x="427.0" y="290.2" width="3.0" height="4.2" fill="#d05868" fill-opacity="0.6"/>
<rect x="430.0" y="275.6" width="23.0" height="2.2" fill="#f6c4a0" fill-opacity="0.6"/>
<rect x="430.0" y="277.8" width="23.0" height="1.8" fill="#f6c4a0" fill-opacity="0.1"/>
<rect x="430.0" y="279.6" width="23.0" height="3.0" fill="#f6c4a0" fill-opacity="0.72"/>
<rect x="430.0" y="282.6" width="23.0" height="0.4" fill="#f6c4a0" fill-opacity="0.25"/>
<rect x="430.0" y="283.0" width="23.0" height="2.0" fill="#f6c4a0" fill-opacity="0.5"/>
<rect x="430.0" y="285.0" width="23.0" height="1.3" fill="#f6c4a0" fill-opacity="0.1"/>
<rect x="430.0" y="286.3" width="23.0" height="3.1" fill="#f6c4a0" fill-opacity="0.72"/>
<rect x="430.0" y="289.4" width="23.0" height="0.8" fill="#f6c4a0" fill-opacity="0.2"/>
<rect x="430.0" y="290.2" width="23.0" height="4.2" fill="#f6c4a0" fill-opacity="0.6"/>
<rect x="453.0" y="275.6" width="2.0" height="2.2" fill="#d05868" fill-opacity="0.6"/>
<rect x="453.0" y="277.8" width="2.0" height="1.8" fill="#d05868" fill-opacity="0.1"/>
<rect x="453.0" y="279.6" width="2.0" height="3.0" fill="#d05868" fill-opacity="0.72"/>
<rect x="453.0" y="282.6" width="2.0" height="0.4" fill="#d05868" fill-opacity="0.25"/>
<rect x="453.0" y="283.0" width="2.0" height="2.0" fill="#d05868" fill-opacity="0.5"/>
<rect x="453.0" y="285.0" width="2.0" height="1.3" fill="#d05868" fill-opacity="0.1"/>
<rect x="453.0" y="286.3" width="2.0" height="3.1" fill="#d05868" fill-opacity="0.72"/>
<rect x="453.0" y="289.4" width="2.0" height="0.8" fill="#d05868" fill-opacity="0.2"/>
<rect x="453.0" y="290.2" width="2.0" height="4.2" fill="#d05868" fill-opacity="0.6"/>
<rect x="455.0" y="275.6" width="6.0" height="2.2" fill="#58d030" fill-opacity="0.6"/>
<rect x="455.0" y="277.8" width="6.0" height="1.8" fill="#58d030" fill-opacity="0.1"/>
<rect x="455.0" y="279.6" width="6.0" height="3.0" fill="#58d030" fill-opacity="0.72"/>
<rect x="455.0" y="282.6" width="6.0" height="0.4" fill="#58d030" fill-opacity="0.25"/>
<rect x="455.0" y="283.0" width="6.0" height="2.0" fill="#58d030" fill-opacity="0.5"/>
<rect x="455.0" y="285.0" width="6.0" height="1.3" fill="#58d030" fill-opacity="0.1"/>
<rect x="455.0" y="286.3" width="6.0" height="3.1" fill="#58d030" fill-opacity="0.72"/>
<rect x="455.0" y="289.4" width="6.0" height="0.8" fill="#58d030" fill-opacity="0.2"/>
<rect x="455.0" y="290.2" width="6.0" height="4.2" fill="#58d030" fill-opacity="0.6"/>
<rect x="461.0" y="275.6" width="2.0" height="2.2" fill="#f8d0b0" fill-opacity="0.6"/>
<rect x="461.0" y="277.8" width="2.0" height="1.8" fill="#f8d0b0" fill-opacity="0.1"/>
<rect x="461.0" y="279.6" width="2.0" height="3.0" fill="#f8d0b0" fill-opacity="0.72"/>
<rect x="461.0" y="282.6" width="2.0" height="0.4" fill="#f8d0b0" fill-opacity="0.25"/>
<rect x="461.0" y="283.0" width="2.0" height="2.0" fill="#f8d0b0" fill-opacity="0.5"/>
<rect x="461.0" y="285.0" width="2.0" height="1.3" fill="#f8d0b0" fill-opacity="0.1"/>
<rect x="461.0" y="286.3" width="2.0" height="3.1" fill="#f8d0b0" fill-opacity="0.72"/>
<rect x="461.0" y="289.4" width="2.0" height="0.8" fill="#f8d0b0" fill-opacity="0.2"/>
<rect x="461.0" y="290.2" width="2.0" height="4.2" fill="#f8d0b0" fill-opacity="0.6"/>
<rect x="463.0" y="275.6" width="3.0" height="2.2" fill="#f0e040" fill-opacity="0.6"/>
<rect x="463.0" y="277.8" width="3.0" height="1.8" fill="#f0e040" fill-opacity="0.1"/>
<rect x="463.0" y="279.6" width="3.0" height="3.0" fill="#f0e040" fill-opacity="0.72"/>
<rect x="463.0" y="282.6" width="3.0" height="0.4" fill="#f0e040" fill-opacity="0.25"/>
<rect x="463.0" y="283.0" width="3.0" height="2.0" fill="#f0e040" fill-opacity="0.5"/>
<rect x="463.0" y="285.0" width="3.0" height="1.3" fill="#f0e040" fill-opacity="0.1"/>
<rect x="463.0" y="286.3" width="3.0" height="3.1" fill="#f0e040" fill-opacity="0.72"/>
<rect x="463.0" y="289.4" width="3.0" height="0.8" fill="#f0e040" fill-opacity="0.2"/>
<rect x="463.0" y="290.2" width="3.0" height="4.2" fill="#f0e040" fill-opacity="0.6"/>
<rect x="466.0" y="275.6" width="6.0" height="2.2" fill="#e06878" fill-opacity="0.6"/>
<rect x="466.0" y="277.8" width="6.0" height="1.8" fill="#e06878" fill-opacity="0.1"/>
<rect x="466.0" y="279.6" width="6.0" height="3.0" fill="#e06878" fill-opacity="0.72"/>
<rect x="466.0" y="282.6" width="6.0" height="0.4" fill="#e06878" fill-opacity="0.25"/>
<rect x="466.0" y="283.0" width="6.0" height="2.0" fill="#e06878" fill-opacity="0.5"/>
<rect x="466.0" y="285.0" width="6.0" height="1.3" fill="#e06878" fill-opacity="0.1"/>
<rect x="466.0" y="286.3" width="6.0" height="3.1" fill="#e06878" fill-opacity="0.72"/>
<rect x="466.0" y="289.4" width="6.0" height="0.8" fill="#e06878" fill-opacity="0.2"/>
<rect x="466.0" y="290.2" width="6.0" height="4.2" fill="#e06878" fill-opacity="0.6"/>
<rect x="472.0" y="275.6" width="6.0" height="2.2" fill="#f8d0d0" fill-opacity="0.6"/>
<rect x="472.0" y="277.8" width="6.0" height="1.8" fill="#f8d0d0" fill-opacity="0.1"/>
<rect x="472.0" y="279.6" width="6.0" height="3.0" fill="#f8d0d0" fill-opacity="0.72"/>
<rect x="472.0" y="282.6" width="6.0" height="0.4" fill="#f8d0d0" fill-opacity="0.25"/>
<rect x="472.0" y="283.0" width="6.0" height="2.0" fill="#f8d0d0" fill-opacity="0.5"/>
<rect x="472.0" y="285.0" width="6.0" height="1.3" fill="#f8d0d0" fill-opacity="0.1"/>
<rect x="472.0" y="286.3" width="6.0" height="3.1" fill="#f8d0d0" fill-opacity="0.72"/>
<rect x="472.0" y="289.4" width="6.0" height="0.8" fill="#f8d0d0" fill-opacity="0.2"/>
<rect x="472.0" y="290.2" width="6.0" height="4.2" fill="#f8d0d0" fill-opacity="0.6"/>
<rect x="478.0" y="275.6" width="3.0" height="2.2" fill="#58c828" fill-opacity="0.6"/>
<rect x="478.0" y="277.8" width="3.0" height="1.8" fill="#58c828" fill-opacity="0.1"/>
<rect x="478.0" y="279.6" width="3.0" height="3.0" fill="#58c828" fill-opacity="0.72"/>
<rect x="478.0" y="282.6" width="3.0" height="0.4" fill="#58c828" fill-opacity="0.25"/>
<rect x="478.0" y="283.0" width="3.0" height="2.0" fill="#58c828" fill-opacity="0.5"/>
<rect x="478.0" y="285.0" width="3.0" height="1.3" fill="#58c828" fill-opacity="0.1"/>
<rect x="478.0" y="286.3" width="3.0" height="3.1" fill="#58c828" fill-opacity="0.72"/>
<rect x="478.0" y="289.4" width="3.0" height="0.8" fill="#58c828" fill-opacity="0.2"/>
<rect x="478.0" y="290.2" width="3.0" height="4.2" fill="#58c828" fill-opacity="0.6"/>
<rect x="481.0" y="275.6" width="2.0" height="2.2" fill="#d05868" fill-opacity="0.6"/>
<rect x="481.0" y="277.8" width="2.0" height="1.8" fill="#d05868" fill-opacity="0.1"/>
<rect x="481.0" y="279.6" width="2.0" height="3.0" fill="#d05868" fill-opacity="0.72"/>
<rect x="481.0" y="282.6" width="2.0" height="0.4" fill="#d05868" fill-opacity="0.25"/>
<rect x="481.0" y="283.0" width="2.0" height="2.0" fill="#d05868" fill-opacity="0.5"/>
<rect x="481.0" y="285.0" width="2.0" height="1.3" fill="#d05868" fill-opacity="0.1"/>
<rect x="481.0" y="286.3" width="2.0" height="3.1" fill="#d05868" fill-opacity="0.72"/>
<rect x="481.0" y="289.4" width="2.0" height="0.8" fill="#d05868" fill-opacity="0.2"/>
<rect x="481.0" y="290.2" width="2.0" height="4.2" fill="#d05868" fill-opacity="0.6"/>
<rect x="483.0" y="275.6" width="3.0" height="2.2" fill="#f8d0d0" fill-opacity="0.6"/>
<rect x="483.0" y="277.8" width="3.0" height="1.8" fill="#f8d0d0" fill-opacity="0.1"/>
<rect x="483.0" y="279.6" width="3.0" height="3.0" fill="#f8d0d0" fill-opacity="0.72"/>
<rect x="483.0" y="282.6" width="3.0" height="0.4" fill="#f8d0d0" fill-opacity="0.25"/>
<rect x="483.0" y="283.0" width="3.0" height="2.0" fill="#f8d0d0" fill-opacity="0.5"/>
<rect x="483.0" y="285.0" width="3.0" height="1.3" fill="#f8d0d0" fill-opacity="0.1"/>
<rect x="483.0" y="286.3" width="3.0" height="3.1" fill="#f8d0d0" fill-opacity="0.72"/>
<rect x="483.0" y="289.4" width="3.0" height="0.8" fill="#f8d0d0" fill-opacity="0.2"/>
<rect x="483.0" y="290.2" width="3.0" height="4.2" fill="#f8d0d0" fill-opacity="0.6"/>
<rect x="486.0" y="275.6" width="10.2" height="2.2" fill="#f6c890" fill-opacity="0.6"/>
<rect x="486.0" y="277.8" width="10.2" height="1.8" fill="#f6c890" fill-opacity="0.1"/>
<rect x="486.0" y="279.6" width="10.2" height="3.0" fill="#f6c890" fill-opacity="0.72"/>
<rect x="486.0" y="282.6" width="10.2" height="0.4" fill="#f6c890" fill-opacity="0.25"/>
<rect x="486.0" y="283.0" width="10.2" height="2.0" fill="#f6c890" fill-opacity="0.5"/>
<rect x="486.0" y="285.0" width="10.2" height="1.3" fill="#f6c890" fill-opacity="0.1"/>
<rect x="486.0" y="286.3" width="10.2" height="3.1" fill="#f6c890" fill-opacity="0.72"/>
<rect x="486.0" y="289.4" width="10.2" height="0.8" fill="#f6c890" fill-opacity="0.2"/>
<rect x="486.0" y="290.2" width="10.2" height="4.2" fill="#f6c890" fill-opacity="0.6"/>
<defs><pattern id="gr" width="2.8" height="2.2" patternUnits="userSpaceOnUse" x="252.6" y="275.4"><rect x="1.95" y="0" width="0.85" height="2.2" fill="#fff" fill-opacity="0.5"/><rect x="0" y="1.6" width="2.8" height="0.6" fill="#fff" fill-opacity="0.35"/></pattern></defs>
<rect x="252.6" y="275.4" width="243.6" height="18.7" fill="url(#gr)"/>
<line x1="343.3" y1="302.2" x2="351.4" y2="302.2" stroke="#aaa" stroke-width="0.7"/>
<line x1="375.3" y1="302.2" x2="498.2" y2="302.2" stroke="#666" stroke-width="0.7"/>
<line x1="253" y1="314.1" x2="341.8" y2="314.1" stroke="#888" stroke-width="0.7"/>
<line x1="353.5" y1="313.6" x2="374.4" y2="313.6" stroke="#aaa" stroke-width="0.7"/>
<text x="252.2" y="323.0" font-size="5.94" fill="#1a1a1a" font-weight="normal" text-anchor="start" textLength="112.50" lengthAdjust="spacingAndGlyphs" stroke="#1a1a1a" stroke-width="0.1" transform="rotate(0.06 252.2 323.0)" >Banyuls-sur-mer, Toulon, Lorient, Le Port</text>
<text x="275.8" y="329.4" font-size="4.24" fill="#333" font-weight="normal" text-anchor="middle" textLength="8.66" lengthAdjust="spacingAndGlyphs" stroke="#333" stroke-width="0.2" transform="rotate(0.06 275.8 329.4)" >BSM</text>
<text x="307" y="329.4" font-size="4.24" fill="#333" font-weight="normal" text-anchor="middle" textLength="7.66" lengthAdjust="spacingAndGlyphs" stroke="#333" stroke-width="0.2" transform="rotate(0.06 307 329.4)" >TLN</text>
<text x="328.3" y="329.4" font-size="4.24" fill="#333" font-weight="normal" text-anchor="middle" textLength="8.00" lengthAdjust="spacingAndGlyphs" stroke="#333" stroke-width="0.2" transform="rotate(0.06 328.3 329.4)" >LRN</text>
<text x="350" y="329.4" font-size="4.24" fill="#333" font-weight="normal" text-anchor="middle" textLength="8.23" lengthAdjust="spacingAndGlyphs" stroke="#333" stroke-width="0.2" transform="rotate(0.06 350 329.4)" >REU</text>
<text x="440.4" y="308.2" font-size="5.72" fill="#222" font-weight="normal" text-anchor="middle" textLength="14.00" lengthAdjust="spacingAndGlyphs" stroke="#222" stroke-width="0.08" transform="rotate(0.06 440.4 308.2)" >Brest</text>
<text x="440.2" y="313.5" font-size="4.24" fill="#333" font-weight="normal" text-anchor="middle" textLength="7.81" lengthAdjust="spacingAndGlyphs" stroke="#333" stroke-width="0.2" transform="rotate(0.06 440.2 313.5)" >BES</text>
</svg></body></html>
